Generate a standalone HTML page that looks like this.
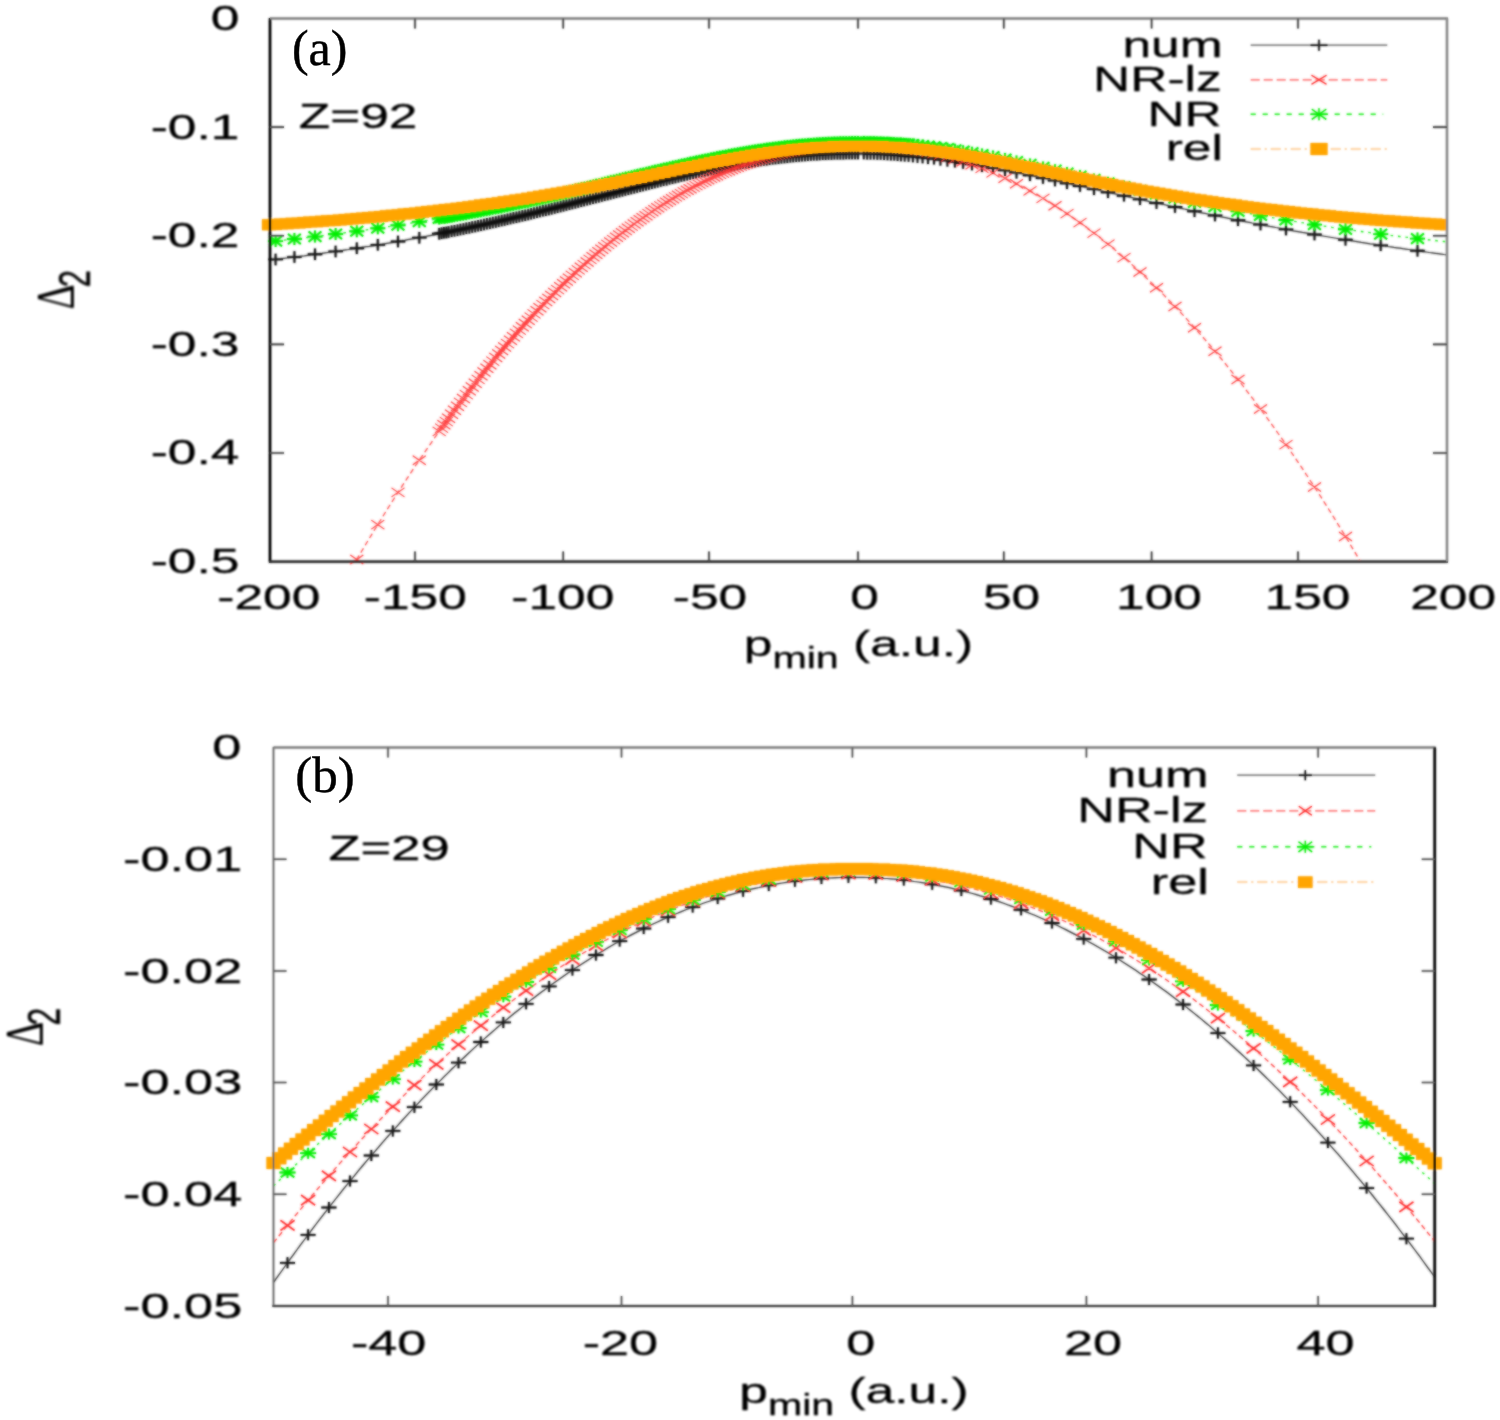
<!DOCTYPE html>
<html lang="en"><head><meta charset="utf-8"><title>Figure: Delta_2 versus p_min</title>
<style>
html,body{margin:0;padding:0;background:#fff}
svg{display:block}
text{fill:#000;stroke:#000;stroke-width:0.3px;stroke-linejoin:round}
.sf{stroke-width:0.15px}
.tg{stroke-width:0.45px}
</style></head>
<body>
<svg width="1500" height="1420" viewBox="0 0 1500 1420">
<defs><filter id="bl" x="0" y="0" width="1500" height="1420" filterUnits="userSpaceOnUse"><feGaussianBlur stdDeviation="0.9"/></filter><filter id="bl2" x="0" y="0" width="1500" height="1420" filterUnits="userSpaceOnUse"><feGaussianBlur stdDeviation="0.35"/></filter></defs>
<rect width="1500" height="1420" fill="#ffffff"/>
<defs>
<g id="gfx">
<clipPath id="clipA"><rect x="261.0" y="18.5" width="1187.0" height="550.1"/></clipPath>
<g clip-path="url(#clipA)">
<path d="M269.0,260.2L272.0,259.8L274.9,259.5L277.9,259.1L280.8,258.8L283.8,258.4L286.7,258.0L289.7,257.7L292.6,257.3L295.6,256.9L298.5,256.5L301.5,256.1L304.4,255.8L307.4,255.4L310.3,255.0L313.3,254.6L316.2,254.2L319.2,253.8L322.1,253.4L325.1,252.9L328.0,252.5L331.0,252.1L334.0,251.7L336.9,251.2L339.9,250.8L342.8,250.4L345.8,249.9L348.7,249.5L351.7,249.0L354.6,248.6L357.6,248.1L360.5,247.7L363.5,247.2L366.4,246.7L369.4,246.3L372.3,245.8L375.3,245.3L378.2,244.8L381.2,244.3L384.1,243.8L387.1,243.3L390.0,242.8L393.0,242.3L396.0,241.8L398.9,241.3L401.9,240.8L404.8,240.3L407.8,239.7L410.7,239.2L413.7,238.7L416.6,238.1L419.6,237.6L422.5,237.0L425.5,236.5L428.4,235.9L431.4,235.3L434.3,234.8L437.3,234.2L440.2,233.6L443.2,233.0L446.1,232.4L449.1,231.8L452.0,231.3L455.0,230.7L458.0,230.0L460.9,229.4L463.9,228.8L466.8,228.2L469.8,227.6L472.7,227.0L475.7,226.3L478.6,225.7L481.6,225.1L484.5,224.4L487.5,223.8L490.4,223.1L493.4,222.4L496.3,221.8L499.3,221.1L502.2,220.5L505.2,219.8L508.1,219.1L511.1,218.4L514.0,217.7L517.0,217.0L520.0,216.4L522.9,215.7L525.9,215.0L528.8,214.3L531.8,213.5L534.7,212.8L537.7,212.1L540.6,211.4L543.6,210.7L546.5,210.0L549.5,209.2L552.4,208.5L555.4,207.8L558.3,207.0L561.3,206.3L564.2,205.6L567.2,204.8L570.1,204.1L573.1,203.3L576.0,202.6L579.0,201.8L582.0,201.1L584.9,200.3L587.9,199.6L590.8,198.8L593.8,198.1L596.7,197.3L599.7,196.5L602.6,195.8L605.6,195.0L608.5,194.3L611.5,193.5L614.4,192.7L617.4,192.0L620.3,191.2L623.3,190.5L626.2,189.7L629.2,189.0L632.1,188.2L635.1,187.5L638.0,186.7L641.0,186.0L644.0,185.2L646.9,184.5L649.9,183.7L652.8,183.0L655.8,182.3L658.7,181.5L661.7,180.8L664.6,180.1L667.6,179.4L670.5,178.7L673.5,177.9L676.4,177.2L679.4,176.5L682.3,175.9L685.3,175.2L688.2,174.5L691.2,173.8L694.1,173.2L697.1,172.5L700.0,171.8L703.0,171.2L706.0,170.6L708.9,169.9L711.9,169.3L714.8,168.7L717.8,168.1L720.7,167.5L723.7,166.9L726.6,166.4L729.6,165.8L732.5,165.2L735.5,164.7L738.4,164.2L741.4,163.7L744.3,163.1L747.3,162.6L750.2,162.2L753.2,161.7L756.1,161.2L759.1,160.8L762.0,160.3L765.0,159.9L768.0,159.5L770.9,159.1L773.9,158.7L776.8,158.3L779.8,158.0L782.7,157.6L785.7,157.3L788.6,157.0L791.6,156.7L794.5,156.4L797.5,156.1L800.4,155.9L803.4,155.6L806.3,155.4L809.3,155.2L812.2,155.0L815.2,154.8L818.1,154.6L821.1,154.4L824.0,154.3L827.0,154.1L830.0,154.0L832.9,153.9L835.9,153.8L838.8,153.7L841.8,153.7L844.7,153.6L847.7,153.6L850.6,153.5L853.6,153.5L856.5,153.5L859.5,153.5L862.4,153.5L865.4,153.6L868.3,153.6L871.3,153.7L874.2,153.8L877.2,153.9L880.1,154.1L883.1,154.2L886.0,154.4L889.0,154.5L892.0,154.7L894.9,154.9L897.9,155.2L900.8,155.4L903.8,155.6L906.7,155.9L909.7,156.2L912.6,156.4L915.6,156.7L918.5,157.0L921.5,157.4L924.4,157.7L927.4,158.0L930.3,158.4L933.3,158.7L936.2,159.1L939.2,159.5L942.1,159.9L945.1,160.3L948.0,160.7L951.0,161.1L954.0,161.6L956.9,162.0L959.9,162.5L962.8,162.9L965.8,163.4L968.7,163.9L971.7,164.4L974.6,164.9L977.6,165.4L980.5,165.9L983.5,166.4L986.4,166.9L989.4,167.4L992.3,168.0L995.3,168.5L998.2,169.1L1001.2,169.6L1004.1,170.2L1007.1,170.8L1010.0,171.3L1013.0,171.9L1016.0,172.5L1018.9,173.1L1021.9,173.7L1024.8,174.3L1027.8,174.9L1030.7,175.5L1033.7,176.1L1036.6,176.7L1039.6,177.3L1042.5,177.9L1045.5,178.6L1048.4,179.2L1051.4,179.8L1054.3,180.4L1057.3,181.1L1060.2,181.7L1063.2,182.4L1066.1,183.0L1069.1,183.6L1072.0,184.3L1075.0,184.9L1078.0,185.6L1080.9,186.2L1083.9,186.9L1086.8,187.5L1089.8,188.2L1092.7,188.8L1095.7,189.5L1098.6,190.2L1101.6,190.8L1104.5,191.5L1107.5,192.1L1110.4,192.8L1113.4,193.4L1116.3,194.1L1119.3,194.8L1122.2,195.4L1125.2,196.1L1128.1,196.7L1131.1,197.4L1134.0,198.0L1137.0,198.7L1140.0,199.4L1142.9,200.0L1145.9,200.7L1148.8,201.3L1151.8,202.0L1154.7,202.6L1157.7,203.3L1160.6,203.9L1163.6,204.5L1166.5,205.2L1169.5,205.8L1172.4,206.5L1175.4,207.1L1178.3,207.7L1181.3,208.4L1184.2,209.0L1187.2,209.6L1190.1,210.3L1193.1,210.9L1196.0,211.5L1199.0,212.2L1202.0,212.8L1204.9,213.4L1207.9,214.0L1210.8,214.6L1213.8,215.2L1216.7,215.8L1219.7,216.5L1222.6,217.1L1225.6,217.7L1228.5,218.3L1231.5,218.9L1234.4,219.5L1237.4,220.0L1240.3,220.6L1243.3,221.2L1246.2,221.8L1249.2,222.4L1252.1,223.0L1255.1,223.5L1258.0,224.1L1261.0,224.7L1264.0,225.3L1266.9,225.8L1269.9,226.4L1272.8,226.9L1275.8,227.5L1278.7,228.0L1281.7,228.6L1284.6,229.1L1287.6,229.7L1290.5,230.2L1293.5,230.8L1296.4,231.3L1299.4,231.8L1302.3,232.4L1305.3,232.9L1308.2,233.4L1311.2,233.9L1314.1,234.5L1317.1,235.0L1320.0,235.5L1323.0,236.0L1326.0,236.5L1328.9,237.0L1331.9,237.5L1334.8,238.0L1337.8,238.5L1340.7,239.0L1343.7,239.5L1346.6,240.0L1349.6,240.5L1352.5,240.9L1355.5,241.4L1358.4,241.9L1361.4,242.4L1364.3,242.8L1367.3,243.3L1370.2,243.8L1373.2,244.2L1376.1,244.7L1379.1,245.1L1382.0,245.6L1385.0,246.0L1388.0,246.5L1390.9,246.9L1393.9,247.4L1396.8,247.8L1399.8,248.2L1402.7,248.7L1405.7,249.1L1408.6,249.5L1411.6,250.0L1414.5,250.4L1417.5,250.8L1420.4,251.2L1423.4,251.6L1426.3,252.0L1429.3,252.5L1432.2,252.9L1435.2,253.3L1438.1,253.7L1441.1,254.1L1444.0,254.5L1447.0,254.8" fill="none" stroke="#444" stroke-width="1.2"/>
<path d="M268.4,259.4h14.5M275.6,253.7v11.5M287.1,257.1h14.5M294.4,251.3v11.5M307.8,254.3h14.5M315.0,248.6v11.5M328.4,251.4h14.5M335.6,245.7v11.5M349.6,248.2h14.5M356.8,242.5v11.5M370.6,244.9h14.5M377.8,239.1v11.5M390.8,241.5h14.5M398.0,235.7v11.5M412.1,237.6h14.5M419.3,231.9v11.5M432.0,233.8h14.5M439.2,228.1v11.5M434.3,233.3h14.5M441.6,227.6v11.5M436.7,232.9h14.5M443.9,227.1v11.5M439.0,232.4h14.5M446.3,226.7v11.5M441.4,231.9h14.5M448.6,226.2v11.5M444.3,231.3h14.5M451.6,225.6v11.5M447.3,230.7h14.5M454.5,225.0v11.5M450.2,230.1h14.5M457.5,224.4v11.5M453.2,229.5h14.5M460.4,223.8v11.5M456.1,228.9h14.5M463.4,223.2v11.5M459.1,228.3h14.5M466.3,222.6v11.5M462.0,227.7h14.5M469.3,221.9v11.5M465.0,227.1h14.5M472.2,221.3v11.5M467.9,226.4h14.5M475.2,220.7v11.5M470.8,225.8h14.5M478.1,220.1v11.5M473.8,225.2h14.5M481.0,219.4v11.5M476.7,224.5h14.5M484.0,218.8v11.5M479.7,223.9h14.5M486.9,218.1v11.5M482.6,223.2h14.5M489.9,217.5v11.5M485.6,222.6h14.5M492.8,216.8v11.5M488.5,221.9h14.5M495.8,216.2v11.5M491.5,221.3h14.5M498.7,215.5v11.5M494.4,220.6h14.5M501.7,214.8v11.5M497.4,219.9h14.5M504.6,214.2v11.5M500.3,219.2h14.5M507.5,213.5v11.5M503.2,218.6h14.5M510.5,212.8v11.5M506.2,217.9h14.5M513.4,212.1v11.5M509.1,217.2h14.5M516.4,211.4v11.5M512.1,216.5h14.5M519.3,210.8v11.5M515.0,215.8h14.5M522.3,210.1v11.5M518.0,215.1h14.5M525.2,209.4v11.5M520.9,214.4h14.5M528.2,208.7v11.5M523.9,213.7h14.5M531.1,208.0v11.5M526.8,213.0h14.5M534.0,207.2v11.5M529.7,212.3h14.5M537.0,206.5v11.5M532.7,211.6h14.5M539.9,205.8v11.5M535.6,210.8h14.5M542.9,205.1v11.5M538.6,210.1h14.5M545.8,204.4v11.5M541.5,209.4h14.5M548.8,203.7v11.5M544.5,208.7h14.5M551.7,202.9v11.5M547.4,207.9h14.5M554.7,202.2v11.5M550.4,207.2h14.5M557.6,201.5v11.5M553.3,206.5h14.5M560.6,200.7v11.5M556.2,205.7h14.5M563.5,200.0v11.5M559.2,205.0h14.5M566.4,199.3v11.5M562.1,204.3h14.5M569.4,198.5v11.5M565.1,203.5h14.5M572.3,197.8v11.5M568.0,202.8h14.5M575.3,197.0v11.5M571.0,202.0h14.5M578.2,196.3v11.5M573.9,201.3h14.5M581.2,195.5v11.5M576.9,200.5h14.5M584.1,194.8v11.5M579.8,199.8h14.5M587.1,194.0v11.5M582.8,199.0h14.5M590.0,193.3v11.5M585.7,198.3h14.5M593.0,192.5v11.5M588.6,197.5h14.5M595.9,191.8v11.5M591.6,196.8h14.5M598.8,191.0v11.5M594.5,196.0h14.5M601.8,190.2v11.5M597.5,195.2h14.5M604.7,189.5v11.5M600.4,194.5h14.5M607.7,188.7v11.5M603.4,193.7h14.5M610.6,188.0v11.5M606.3,193.0h14.5M613.6,187.2v11.5M609.3,192.2h14.5M616.5,186.5v11.5M612.2,191.5h14.5M619.5,185.7v11.5M615.1,190.7h14.5M622.4,184.9v11.5M618.1,189.9h14.5M625.3,184.2v11.5M621.0,189.2h14.5M628.3,183.4v11.5M624.0,188.4h14.5M631.2,182.7v11.5M626.9,187.7h14.5M634.2,181.9v11.5M629.9,186.9h14.5M637.1,181.2v11.5M632.8,186.2h14.5M640.1,180.4v11.5M635.8,185.4h14.5M643.0,179.7v11.5M638.7,184.7h14.5M646.0,179.0v11.5M641.7,184.0h14.5M648.9,178.2v11.5M644.6,183.2h14.5M651.9,177.5v11.5M647.5,182.5h14.5M654.8,176.7v11.5M650.5,181.8h14.5M657.7,176.0v11.5M653.4,181.0h14.5M660.7,175.3v11.5M656.4,180.3h14.5M663.6,174.6v11.5M659.3,179.6h14.5M666.6,173.9v11.5M662.3,178.9h14.5M669.5,173.1v11.5M665.2,178.2h14.5M672.5,172.4v11.5M668.2,177.5h14.5M675.4,171.7v11.5M671.1,176.8h14.5M678.4,171.0v11.5M674.0,176.1h14.5M681.3,170.3v11.5M677.0,175.4h14.5M684.2,169.7v11.5M679.9,174.7h14.5M687.2,169.0v11.5M682.9,174.1h14.5M690.1,168.3v11.5M685.8,173.4h14.5M693.1,167.6v11.5M688.8,172.7h14.5M696.0,167.0v11.5M691.7,172.1h14.5M699.0,166.3v11.5M694.7,171.4h14.5M701.9,165.7v11.5M697.6,170.8h14.5M704.9,165.1v11.5M700.6,170.2h14.5M707.8,164.4v11.5M703.5,169.6h14.5M710.8,163.8v11.5M706.4,168.9h14.5M713.7,163.2v11.5M709.4,168.3h14.5M716.6,162.6v11.5M712.3,167.7h14.5M719.6,162.0v11.5M715.3,167.2h14.5M722.5,161.4v11.5M718.2,166.6h14.5M725.5,160.8v11.5M721.2,166.0h14.5M728.4,160.3v11.5M724.1,165.5h14.5M731.4,159.7v11.5M727.1,164.9h14.5M734.3,159.2v11.5M730.0,164.4h14.5M737.3,158.6v11.5M733.0,163.9h14.5M740.2,158.1v11.5M735.9,163.3h14.5M743.1,157.6v11.5M738.8,162.8h14.5M746.1,157.1v11.5M741.8,162.4h14.5M749.0,156.6v11.5M744.7,161.9h14.5M752.0,156.1v11.5M747.7,161.4h14.5M754.9,155.7v11.5M750.6,161.0h14.5M757.9,155.2v11.5M753.6,160.5h14.5M760.8,154.8v11.5M756.5,160.1h14.5M763.8,154.3v11.5M759.5,159.7h14.5M766.7,153.9v11.5M762.4,159.3h14.5M769.6,153.5v11.5M765.3,158.9h14.5M772.6,153.1v11.5M768.3,158.5h14.5M775.5,152.8v11.5M771.2,158.1h14.5M778.5,152.4v11.5M774.2,157.8h14.5M781.4,152.0v11.5M777.1,157.5h14.5M784.4,151.7v11.5M780.1,157.1h14.5M787.3,151.4v11.5M783.0,156.8h14.5M790.3,151.1v11.5M786.0,156.5h14.5M793.2,150.8v11.5M788.9,156.2h14.5M796.2,150.5v11.5M791.9,156.0h14.5M799.1,150.2v11.5M794.8,155.7h14.5M802.0,150.0v11.5M797.7,155.5h14.5M805.0,149.7v11.5M800.7,155.3h14.5M807.9,149.5v11.5M803.6,155.0h14.5M810.9,149.3v11.5M806.6,154.8h14.5M813.8,149.1v11.5M809.5,154.7h14.5M816.8,148.9v11.5M812.5,154.5h14.5M819.7,148.7v11.5M815.4,154.3h14.5M822.7,148.6v11.5M818.4,154.2h14.5M825.6,148.4v11.5M821.3,154.1h14.5M828.5,148.3v11.5M824.2,154.0h14.5M831.5,148.2v11.5M827.2,153.9h14.5M834.4,148.1v11.5M830.1,153.8h14.5M837.4,148.0v11.5M833.1,153.7h14.5M840.3,147.9v11.5M836.0,153.6h14.5M843.3,147.9v11.5M839.0,153.6h14.5M846.2,147.8v11.5M841.9,153.5h14.5M849.2,147.8v11.5M844.9,153.5h14.5M852.1,147.8v11.5M847.8,153.5h14.5M855.1,147.8v11.5M850.8,153.5h14.5M858.0,147.8v11.5M856.5,153.5h14.5M863.8,147.8v11.5M859.9,153.6h14.5M867.2,147.9v11.5M863.3,153.7h14.5M870.5,147.9v11.5M866.7,153.8h14.5M873.9,148.1v11.5M870.1,153.9h14.5M877.3,148.2v11.5M873.5,154.1h14.5M880.7,148.3v11.5M876.8,154.3h14.5M884.1,148.5v11.5M880.2,154.4h14.5M887.5,148.7v11.5M883.6,154.7h14.5M890.9,148.9v11.5M887.0,154.9h14.5M894.2,149.1v11.5M890.4,155.1h14.5M897.6,149.4v11.5M893.8,155.4h14.5M901.0,149.7v11.5M897.4,155.7h14.5M904.7,150.0v11.5M901.4,156.1h14.5M908.6,150.3v11.5M905.6,156.5h14.5M912.9,150.7v11.5M910.3,156.9h14.5M917.5,151.2v11.5M915.3,157.5h14.5M922.6,151.7v11.5M920.8,158.1h14.5M928.0,152.4v11.5M926.7,158.8h14.5M934.0,153.1v11.5M933.1,159.7h14.5M940.4,153.9v11.5M940.1,160.6h14.5M947.4,154.9v11.5M947.7,161.7h14.5M954.9,156.0v11.5M955.9,163.0h14.5M963.1,157.2v11.5M964.8,164.4h14.5M972.0,158.7v11.5M974.8,166.1h14.5M982.0,160.4v11.5M985.8,168.1h14.5M993.0,162.4v11.5M997.8,170.4h14.5M1005.0,164.6v11.5M1009.2,172.6h14.5M1016.5,166.9v11.5M1022.8,175.3h14.5M1030.0,169.6v11.5M1035.8,178.0h14.5M1043.0,172.3v11.5M1047.8,180.6h14.5M1055.0,174.8v11.5M1059.8,183.2h14.5M1067.0,177.4v11.5M1072.8,186.0h14.5M1080.0,180.3v11.5M1086.8,189.1h14.5M1094.0,183.4v11.5M1100.8,192.2h14.5M1108.0,186.5v11.5M1116.8,195.8h14.5M1124.0,190.1v11.5M1132.8,199.4h14.5M1140.0,193.6v11.5M1149.2,203.0h14.5M1156.5,197.2v11.5M1167.8,207.0h14.5M1175.0,201.3v11.5M1187.2,211.2h14.5M1194.5,205.5v11.5M1207.8,215.5h14.5M1215.0,209.7v11.5M1230.8,220.2h14.5M1238.0,214.4v11.5M1253.2,224.6h14.5M1260.5,218.8v11.5M1278.8,229.4h14.5M1286.0,223.7v11.5M1307.2,234.5h14.5M1314.5,228.8v11.5M1338.2,239.8h14.5M1345.5,234.0v11.5M1373.5,245.4h14.5M1380.7,239.6v11.5M1410.2,250.8h14.5M1417.5,245.1v11.5" fill="none" stroke="#111" stroke-width="1.9"/>
<path d="M356.5,559.9L359.1,555.6L361.6,551.3L364.2,547.1L366.7,542.8L369.2,538.6L371.8,534.4L374.3,530.2L376.9,526.1L379.4,522.0L381.9,517.9L384.5,513.8L387.0,509.7L389.5,505.7L392.1,501.7L394.6,497.7L397.2,493.7L399.7,489.8L402.2,485.9L404.8,482.0L407.3,478.1L409.9,474.3L412.4,470.4L414.9,466.6L417.5,462.9L420.0,459.1L422.6,455.4L425.1,451.7L427.6,448.0L430.2,444.3L432.7,440.7L435.2,437.0L437.8,433.5L440.3,429.9L442.9,426.3L445.4,422.8L447.9,419.3L450.5,415.8L453.0,412.4L455.6,408.9L458.1,405.5L460.6,402.1L463.2,398.7L465.7,395.4L468.3,392.1L470.8,388.8L473.3,385.5L475.9,382.2L478.4,379.0L481.0,375.8L483.5,372.6L486.0,369.5L488.6,366.3L491.1,363.2L493.6,360.1L496.2,357.0L498.7,354.0L501.3,351.0L503.8,348.0L506.3,345.0L508.9,342.0L511.4,339.1L514.0,336.2L516.5,333.3L519.0,330.4L521.6,327.6L524.1,324.7L526.7,321.9L529.2,319.2L531.7,316.4L534.3,313.7L536.8,311.0L539.3,308.3L541.9,305.6L544.4,303.0L547.0,300.4L549.5,297.8L552.0,295.2L554.6,292.6L557.1,290.1L559.7,287.6L562.2,285.1L564.7,282.6L567.3,280.2L569.8,277.8L572.4,275.4L574.9,273.0L577.4,270.7L580.0,268.3L582.5,266.0L585.1,263.8L587.6,261.5L590.1,259.3L592.7,257.0L595.2,254.8L597.7,252.7L600.3,250.5L602.8,248.4L605.4,246.3L607.9,244.2L610.4,242.1L613.0,240.1L615.5,238.1L618.1,236.1L620.6,234.1L623.1,232.2L625.7,230.3L628.2,228.3L630.8,226.5L633.3,224.6L635.8,222.8L638.4,220.9L640.9,219.2L643.5,217.4L646.0,215.6L648.5,213.9L651.1,212.2L653.6,210.5L656.1,208.8L658.7,207.2L661.2,205.6L663.8,204.0L666.3,202.4L668.8,200.9L671.4,199.3L673.9,197.8L676.5,196.3L679.0,194.9L681.5,193.4L684.1,192.0L686.6,190.6L689.2,189.2L691.7,187.9L694.2,186.5L696.8,185.2L699.3,183.9L701.8,182.7L704.4,181.4L706.9,180.2L709.5,179.0L712.0,177.8L714.5,176.6L717.1,175.5L719.6,174.4L722.2,173.3L724.7,172.2L727.2,171.2L729.8,170.1L732.3,169.1L734.9,168.1L737.4,167.1L739.9,166.2L742.5,165.3L745.0,164.4L747.6,163.5L750.1,162.6L752.6,161.8L755.2,161.0L757.7,160.2L760.2,159.4L762.8,158.6L765.3,157.9L767.9,157.2L770.4,156.5L772.9,155.8L775.5,155.2L778.0,154.5L780.6,153.9L783.1,153.3L785.6,152.8L788.2,152.2L790.7,151.7L793.3,151.2L795.8,150.7L798.3,150.2L800.9,149.8L803.4,149.4L805.9,148.9L808.5,148.6L811.0,148.2L813.6,147.9L816.1,147.5L818.6,147.2L821.2,146.9L823.7,146.7L826.3,146.4L828.8,146.2L831.3,146.0L833.9,145.8L836.4,145.7L839.0,145.5L841.5,145.4L844.0,145.3L846.6,145.2L849.1,145.1L851.7,145.1L854.2,145.0L856.7,145.0L859.3,145.0L861.8,145.0L864.3,145.1L866.9,145.1L869.4,145.2L872.0,145.3L874.5,145.4L877.0,145.5L879.6,145.7L882.1,145.8L884.7,146.0L887.2,146.2L889.7,146.4L892.3,146.7L894.8,146.9L897.4,147.2L899.9,147.5L902.4,147.9L905.0,148.2L907.5,148.6L910.1,148.9L912.6,149.4L915.1,149.8L917.7,150.2L920.2,150.7L922.7,151.2L925.3,151.7L927.8,152.2L930.4,152.8L932.9,153.3L935.4,153.9L938.0,154.5L940.5,155.2L943.1,155.8L945.6,156.5L948.1,157.2L950.7,157.9L953.2,158.6L955.8,159.4L958.3,160.2L960.8,161.0L963.4,161.8L965.9,162.6L968.4,163.5L971.0,164.4L973.5,165.3L976.1,166.2L978.6,167.1L981.1,168.1L983.7,169.1L986.2,170.1L988.8,171.2L991.3,172.2L993.8,173.3L996.4,174.4L998.9,175.5L1001.5,176.6L1004.0,177.8L1006.5,179.0L1009.1,180.2L1011.6,181.4L1014.2,182.7L1016.7,183.9L1019.2,185.2L1021.8,186.5L1024.3,187.9L1026.8,189.2L1029.4,190.6L1031.9,192.0L1034.5,193.4L1037.0,194.9L1039.5,196.3L1042.1,197.8L1044.6,199.3L1047.2,200.9L1049.7,202.4L1052.2,204.0L1054.8,205.6L1057.3,207.2L1059.9,208.8L1062.4,210.5L1064.9,212.2L1067.5,213.9L1070.0,215.6L1072.5,217.4L1075.1,219.2L1077.6,220.9L1080.2,222.8L1082.7,224.6L1085.2,226.5L1087.8,228.3L1090.3,230.3L1092.9,232.2L1095.4,234.1L1097.9,236.1L1100.5,238.1L1103.0,240.1L1105.6,242.1L1108.1,244.2L1110.6,246.3L1113.2,248.4L1115.7,250.5L1118.3,252.7L1120.8,254.8L1123.3,257.0L1125.9,259.3L1128.4,261.5L1130.9,263.8L1133.5,266.0L1136.0,268.3L1138.6,270.7L1141.1,273.0L1143.6,275.4L1146.2,277.8L1148.7,280.2L1151.3,282.6L1153.8,285.1L1156.3,287.6L1158.9,290.1L1161.4,292.6L1164.0,295.2L1166.5,297.8L1169.0,300.4L1171.6,303.0L1174.1,305.6L1176.7,308.3L1179.2,311.0L1181.7,313.7L1184.3,316.4L1186.8,319.2L1189.3,321.9L1191.9,324.7L1194.4,327.6L1197.0,330.4L1199.5,333.3L1202.0,336.2L1204.6,339.1L1207.1,342.0L1209.7,345.0L1212.2,348.0L1214.7,351.0L1217.3,354.0L1219.8,357.0L1222.4,360.1L1224.9,363.2L1227.4,366.3L1230.0,369.5L1232.5,372.6L1235.0,375.8L1237.6,379.0L1240.1,382.2L1242.7,385.5L1245.2,388.8L1247.7,392.1L1250.3,395.4L1252.8,398.7L1255.4,402.1L1257.9,405.5L1260.4,408.9L1263.0,412.4L1265.5,415.8L1268.1,419.3L1270.6,422.8L1273.1,426.3L1275.7,429.9L1278.2,433.5L1280.8,437.0L1283.3,440.7L1285.8,444.3L1288.4,448.0L1290.9,451.7L1293.4,455.4L1296.0,459.1L1298.5,462.9L1301.1,466.6L1303.6,470.4L1306.1,474.3L1308.7,478.1L1311.2,482.0L1313.8,485.9L1316.3,489.8L1318.8,493.7L1321.4,497.7L1323.9,501.7L1326.5,505.7L1329.0,509.7L1331.5,513.8L1334.1,517.9L1336.6,522.0L1339.1,526.1L1341.7,530.2L1344.2,534.4L1346.8,538.6L1349.3,542.8L1351.8,547.1L1354.4,551.3L1356.9,555.6L1359.5,559.9" fill="none" stroke="#ff6060" stroke-width="1.2" stroke-dasharray="5,3.5"/>
<path d="M350.3,555.0l13,9M350.3,564.0l13,-9M371.3,520.1l13,9M371.3,529.1l13,-9M391.5,487.9l13,9M391.5,496.9l13,-9M412.8,455.7l13,9M412.8,464.7l13,-9M432.7,426.9l13,9M432.7,435.9l13,-9M435.1,423.6l13,9M435.1,432.6l13,-9M437.4,420.3l13,9M437.4,429.3l13,-9M439.8,417.1l13,9M439.8,426.1l13,-9M442.1,413.8l13,9M442.1,422.8l13,-9M445.1,409.8l13,9M445.1,418.8l13,-9M448.0,405.8l13,9M448.0,414.8l13,-9M451.0,401.8l13,9M451.0,410.8l13,-9M453.9,397.9l13,9M453.9,406.9l13,-9M456.9,394.0l13,9M456.9,403.0l13,-9M459.8,390.1l13,9M459.8,399.1l13,-9M462.8,386.3l13,9M462.8,395.3l13,-9M465.7,382.5l13,9M465.7,391.5l13,-9M468.7,378.7l13,9M468.7,387.7l13,-9M471.6,374.9l13,9M471.6,383.9l13,-9M474.5,371.2l13,9M474.5,380.2l13,-9M477.5,367.5l13,9M477.5,376.5l13,-9M480.4,363.8l13,9M480.4,372.8l13,-9M483.4,360.2l13,9M483.4,369.2l13,-9M486.3,356.6l13,9M486.3,365.6l13,-9M489.3,353.0l13,9M489.3,362.0l13,-9M492.2,349.5l13,9M492.2,358.5l13,-9M495.2,346.0l13,9M495.2,355.0l13,-9M498.1,342.5l13,9M498.1,351.5l13,-9M501.0,339.1l13,9M501.0,348.1l13,-9M504.0,335.7l13,9M504.0,344.7l13,-9M506.9,332.3l13,9M506.9,341.3l13,-9M509.9,328.9l13,9M509.9,337.9l13,-9M512.8,325.6l13,9M512.8,334.6l13,-9M515.8,322.3l13,9M515.8,331.3l13,-9M518.7,319.0l13,9M518.7,328.0l13,-9M521.7,315.8l13,9M521.7,324.8l13,-9M524.6,312.6l13,9M524.6,321.6l13,-9M527.5,309.4l13,9M527.5,318.4l13,-9M530.5,306.3l13,9M530.5,315.3l13,-9M533.4,303.2l13,9M533.4,312.2l13,-9M536.4,300.1l13,9M536.4,309.1l13,-9M539.3,297.0l13,9M539.3,306.0l13,-9M542.3,294.0l13,9M542.3,303.0l13,-9M545.2,291.0l13,9M545.2,300.0l13,-9M548.2,288.0l13,9M548.2,297.0l13,-9M551.1,285.1l13,9M551.1,294.1l13,-9M554.1,282.2l13,9M554.1,291.2l13,-9M557.0,279.3l13,9M557.0,288.3l13,-9M559.9,276.5l13,9M559.9,285.5l13,-9M562.9,273.7l13,9M562.9,282.7l13,-9M565.8,270.9l13,9M565.8,279.9l13,-9M568.8,268.2l13,9M568.8,277.2l13,-9M571.7,265.4l13,9M571.7,274.4l13,-9M574.7,262.8l13,9M574.7,271.8l13,-9M577.6,260.1l13,9M577.6,269.1l13,-9M580.6,257.5l13,9M580.6,266.5l13,-9M583.5,254.9l13,9M583.5,263.9l13,-9M586.5,252.3l13,9M586.5,261.3l13,-9M589.4,249.8l13,9M589.4,258.8l13,-9M592.3,247.2l13,9M592.3,256.2l13,-9M595.3,244.8l13,9M595.3,253.8l13,-9M598.2,242.3l13,9M598.2,251.3l13,-9M601.2,239.9l13,9M601.2,248.9l13,-9M604.1,237.5l13,9M604.1,246.5l13,-9M607.1,235.1l13,9M607.1,244.1l13,-9M610.0,232.8l13,9M610.0,241.8l13,-9M613.0,230.5l13,9M613.0,239.5l13,-9M615.9,228.2l13,9M615.9,237.2l13,-9M618.8,226.0l13,9M618.8,235.0l13,-9M621.8,223.8l13,9M621.8,232.8l13,-9M624.7,221.6l13,9M624.7,230.6l13,-9M627.7,219.5l13,9M627.7,228.5l13,-9M630.6,217.3l13,9M630.6,226.3l13,-9M633.6,215.2l13,9M633.6,224.2l13,-9M636.5,213.2l13,9M636.5,222.2l13,-9M639.5,211.2l13,9M639.5,220.2l13,-9M642.4,209.1l13,9M642.4,218.1l13,-9M645.4,207.2l13,9M645.4,216.2l13,-9M648.3,205.2l13,9M648.3,214.2l13,-9M651.2,203.3l13,9M651.2,212.3l13,-9M654.2,201.4l13,9M654.2,210.4l13,-9M657.1,199.6l13,9M657.1,208.6l13,-9M660.1,197.8l13,9M660.1,206.8l13,-9M663.0,196.0l13,9M663.0,205.0l13,-9M666.0,194.2l13,9M666.0,203.2l13,-9M668.9,192.4l13,9M668.9,201.4l13,-9M671.9,190.7l13,9M671.9,199.7l13,-9M674.8,189.1l13,9M674.8,198.1l13,-9M677.7,187.4l13,9M677.7,196.4l13,-9M680.7,185.8l13,9M680.7,194.8l13,-9M683.6,184.2l13,9M683.6,193.2l13,-9M686.6,182.6l13,9M686.6,191.6l13,-9M689.5,181.1l13,9M689.5,190.1l13,-9M692.5,179.6l13,9M692.5,188.6l13,-9M695.4,178.1l13,9M695.4,187.1l13,-9M698.4,176.7l13,9M698.4,185.7l13,-9M701.3,175.3l13,9M701.3,184.3l13,-9M704.2,173.9l13,9M704.2,182.9l13,-9M707.2,172.5l13,9M707.2,181.5l13,-9M710.1,171.2l13,9M710.1,180.2l13,-9M713.1,169.9l13,9M713.1,178.9l13,-9M716.0,168.6l13,9M716.0,177.6l13,-9M719.0,167.4l13,9M719.0,176.4l13,-9M721.9,166.2l13,9M721.9,175.2l13,-9M724.9,165.0l13,9M724.9,174.0l13,-9M727.8,163.8l13,9M727.8,172.8l13,-9M730.8,162.7l13,9M730.8,171.7l13,-9M733.7,161.6l13,9M733.7,170.6l13,-9M736.6,160.5l13,9M736.6,169.5l13,-9M739.6,159.5l13,9M739.6,168.5l13,-9M742.5,158.5l13,9M742.5,167.5l13,-9M745.5,157.5l13,9M745.5,166.5l13,-9M748.4,156.5l13,9M748.4,165.5l13,-9M751.4,155.6l13,9M751.4,164.6l13,-9M754.3,154.7l13,9M754.3,163.7l13,-9M757.3,153.8l13,9M757.3,162.8l13,-9M760.2,153.0l13,9M760.2,162.0l13,-9M763.1,152.2l13,9M763.1,161.2l13,-9M766.1,151.4l13,9M766.1,160.4l13,-9M769.0,150.6l13,9M769.0,159.6l13,-9M772.0,149.9l13,9M772.0,158.9l13,-9M774.9,149.2l13,9M774.9,158.2l13,-9M777.9,148.5l13,9M777.9,157.5l13,-9M780.8,147.9l13,9M780.8,156.9l13,-9M783.8,147.3l13,9M783.8,156.3l13,-9M786.7,146.7l13,9M786.7,155.7l13,-9M789.7,146.1l13,9M789.7,155.1l13,-9M792.6,145.6l13,9M792.6,154.6l13,-9M795.5,145.1l13,9M795.5,154.1l13,-9M798.5,144.6l13,9M798.5,153.6l13,-9M801.4,144.1l13,9M801.4,153.1l13,-9M804.4,143.7l13,9M804.4,152.7l13,-9M807.3,143.3l13,9M807.3,152.3l13,-9M810.3,143.0l13,9M810.3,152.0l13,-9M813.2,142.6l13,9M813.2,151.6l13,-9M816.2,142.3l13,9M816.2,151.3l13,-9M819.1,142.0l13,9M819.1,151.0l13,-9M822.0,141.7l13,9M822.0,150.7l13,-9M825.0,141.5l13,9M825.0,150.5l13,-9M827.9,141.3l13,9M827.9,150.3l13,-9M830.9,141.1l13,9M830.9,150.1l13,-9M833.8,140.9l13,9M833.8,149.9l13,-9M836.8,140.8l13,9M836.8,149.8l13,-9M839.7,140.7l13,9M839.7,149.7l13,-9M842.7,140.6l13,9M842.7,149.6l13,-9M845.6,140.6l13,9M845.6,149.6l13,-9M848.6,140.5l13,9M848.6,149.5l13,-9M851.5,140.5l13,9M851.5,149.5l13,-9M857.3,140.6l13,9M857.3,149.6l13,-9M860.7,140.6l13,9M860.7,149.6l13,-9M864.0,140.7l13,9M864.0,149.7l13,-9M867.4,140.9l13,9M867.4,149.9l13,-9M870.8,141.0l13,9M870.8,150.0l13,-9M874.2,141.2l13,9M874.2,150.2l13,-9M877.6,141.5l13,9M877.6,150.5l13,-9M881.0,141.7l13,9M881.0,150.7l13,-9M884.4,142.0l13,9M884.4,151.0l13,-9M887.7,142.4l13,9M887.7,151.4l13,-9M891.1,142.8l13,9M891.1,151.8l13,-9M894.5,143.2l13,9M894.5,152.2l13,-9M898.2,143.7l13,9M898.2,152.7l13,-9M902.1,144.2l13,9M902.1,153.2l13,-9M906.4,144.9l13,9M906.4,153.9l13,-9M911.0,145.7l13,9M911.0,154.7l13,-9M916.1,146.6l13,9M916.1,155.6l13,-9M921.5,147.8l13,9M921.5,156.8l13,-9M927.5,149.1l13,9M927.5,158.1l13,-9M933.9,150.6l13,9M933.9,159.6l13,-9M940.9,152.5l13,9M940.9,161.5l13,-9M948.4,154.6l13,9M948.4,163.6l13,-9M956.6,157.2l13,9M956.6,166.2l13,-9M965.5,160.2l13,9M965.5,169.2l13,-9M975.5,163.9l13,9M975.5,172.9l13,-9M986.5,168.4l13,9M986.5,177.4l13,-9M998.5,173.8l13,9M998.5,182.8l13,-9M1010.0,179.3l13,9M1010.0,188.3l13,-9M1023.5,186.4l13,9M1023.5,195.4l13,-9M1036.5,193.9l13,9M1036.5,202.9l13,-9M1048.5,201.2l13,9M1048.5,210.2l13,-9M1060.5,209.1l13,9M1060.5,218.1l13,-9M1073.5,218.1l13,9M1073.5,227.1l13,-9M1087.5,228.6l13,9M1087.5,237.6l13,-9M1101.5,239.6l13,9M1101.5,248.6l13,-9M1117.5,253.1l13,9M1117.5,262.1l13,-9M1133.5,267.5l13,9M1133.5,276.5l13,-9M1150.0,283.3l13,9M1150.0,292.3l13,-9M1168.5,302.0l13,9M1168.5,311.0l13,-9M1188.0,323.2l13,9M1188.0,332.2l13,-9M1208.5,346.8l13,9M1208.5,355.8l13,-9M1231.5,375.0l13,9M1231.5,384.0l13,-9M1254.0,404.5l13,9M1254.0,413.5l13,-9M1279.5,440.1l13,9M1279.5,449.1l13,-9M1308.0,482.5l13,9M1308.0,491.5l13,-9M1339.0,532.0l13,9M1339.0,541.0l13,-9" fill="none" stroke="#ff2a2a" stroke-width="1.15" opacity="0.8"/>
<path d="M269.0,241.8L272.0,241.5L274.9,241.2L277.9,240.9L280.8,240.5L283.8,240.2L286.7,239.9L289.7,239.6L292.6,239.2L295.6,238.9L298.5,238.6L301.5,238.2L304.4,237.9L307.4,237.5L310.3,237.2L313.3,236.8L316.2,236.5L319.2,236.1L322.1,235.7L325.1,235.4L328.0,235.0L331.0,234.6L334.0,234.2L336.9,233.9L339.9,233.5L342.8,233.1L345.8,232.7L348.7,232.3L351.7,231.9L354.6,231.5L357.6,231.1L360.5,230.7L363.5,230.3L366.4,229.8L369.4,229.4L372.3,229.0L375.3,228.6L378.2,228.1L381.2,227.7L384.1,227.3L387.1,226.8L390.0,226.4L393.0,225.9L396.0,225.5L398.9,225.0L401.9,224.6L404.8,224.1L407.8,223.6L410.7,223.1L413.7,222.7L416.6,222.2L419.6,221.7L422.5,221.2L425.5,220.7L428.4,220.2L431.4,219.7L434.3,219.2L437.3,218.7L440.2,218.2L443.2,217.7L446.1,217.1L449.1,216.6L452.0,216.1L455.0,215.6L458.0,215.0L460.9,214.5L463.9,213.9L466.8,213.4L469.8,212.8L472.7,212.3L475.7,211.7L478.6,211.1L481.6,210.6L484.5,210.0L487.5,209.4L490.4,208.8L493.4,208.2L496.3,207.6L499.3,207.0L502.2,206.4L505.2,205.8L508.1,205.2L511.1,204.6L514.0,204.0L517.0,203.4L520.0,202.8L522.9,202.1L525.9,201.5L528.8,200.9L531.8,200.2L534.7,199.6L537.7,199.0L540.6,198.3L543.6,197.7L546.5,197.0L549.5,196.3L552.4,195.7L555.4,195.0L558.3,194.3L561.3,193.7L564.2,193.0L567.2,192.3L570.1,191.7L573.1,191.0L576.0,190.3L579.0,189.6L582.0,188.9L584.9,188.2L587.9,187.5L590.8,186.8L593.8,186.1L596.7,185.4L599.7,184.7L602.6,184.0L605.6,183.3L608.5,182.6L611.5,181.9L614.4,181.2L617.4,180.5L620.3,179.8L623.3,179.1L626.2,178.4L629.2,177.7L632.1,177.0L635.1,176.3L638.0,175.6L641.0,174.9L644.0,174.2L646.9,173.5L649.9,172.8L652.8,172.1L655.8,171.4L658.7,170.7L661.7,170.0L664.6,169.3L667.6,168.6L670.5,167.9L673.5,167.3L676.4,166.6L679.4,165.9L682.3,165.2L685.3,164.6L688.2,163.9L691.2,163.3L694.1,162.6L697.1,162.0L700.0,161.3L703.0,160.7L706.0,160.1L708.9,159.5L711.9,158.8L714.8,158.2L717.8,157.6L720.7,157.0L723.7,156.5L726.6,155.9L729.6,155.3L732.5,154.8L735.5,154.2L738.4,153.7L741.4,153.1L744.3,152.6L747.3,152.1L750.2,151.6L753.2,151.1L756.1,150.6L759.1,150.2L762.0,149.7L765.0,149.3L768.0,148.8L770.9,148.4L773.9,148.0L776.8,147.6L779.8,147.2L782.7,146.8L785.7,146.5L788.6,146.1L791.6,145.8L794.5,145.5L797.5,145.2L800.4,144.9L803.4,144.6L806.3,144.3L809.3,144.1L812.2,143.8L815.2,143.6L818.1,143.4L821.1,143.2L824.0,143.1L827.0,142.9L830.0,142.7L832.9,142.6L835.9,142.5L838.8,142.4L841.8,142.3L844.7,142.2L847.7,142.2L850.6,142.1L853.6,142.1L856.5,142.1L859.5,142.1L862.4,142.1L865.4,142.1L868.3,142.2L871.3,142.2L874.2,142.3L877.2,142.4L880.1,142.5L883.1,142.6L886.0,142.7L889.0,142.9L892.0,143.1L894.9,143.2L897.9,143.4L900.8,143.6L903.8,143.8L906.7,144.1L909.7,144.3L912.6,144.6L915.6,144.9L918.5,145.2L921.5,145.5L924.4,145.8L927.4,146.1L930.3,146.5L933.3,146.8L936.2,147.2L939.2,147.6L942.1,148.0L945.1,148.4L948.0,148.8L951.0,149.3L954.0,149.7L956.9,150.2L959.9,150.6L962.8,151.1L965.8,151.6L968.7,152.1L971.7,152.6L974.6,153.1L977.6,153.7L980.5,154.2L983.5,154.8L986.4,155.3L989.4,155.9L992.3,156.5L995.3,157.0L998.2,157.6L1001.2,158.2L1004.1,158.8L1007.1,159.5L1010.0,160.1L1013.0,160.7L1016.0,161.3L1018.9,162.0L1021.9,162.6L1024.8,163.3L1027.8,163.9L1030.7,164.6L1033.7,165.2L1036.6,165.9L1039.6,166.6L1042.5,167.3L1045.5,167.9L1048.4,168.6L1051.4,169.3L1054.3,170.0L1057.3,170.7L1060.2,171.4L1063.2,172.1L1066.1,172.8L1069.1,173.5L1072.0,174.2L1075.0,174.9L1078.0,175.6L1080.9,176.3L1083.9,177.0L1086.8,177.7L1089.8,178.4L1092.7,179.1L1095.7,179.8L1098.6,180.5L1101.6,181.2L1104.5,181.9L1107.5,182.6L1110.4,183.3L1113.4,184.0L1116.3,184.7L1119.3,185.4L1122.2,186.1L1125.2,186.8L1128.1,187.5L1131.1,188.2L1134.0,188.9L1137.0,189.6L1140.0,190.3L1142.9,191.0L1145.9,191.7L1148.8,192.3L1151.8,193.0L1154.7,193.7L1157.7,194.3L1160.6,195.0L1163.6,195.7L1166.5,196.3L1169.5,197.0L1172.4,197.7L1175.4,198.3L1178.3,199.0L1181.3,199.6L1184.2,200.2L1187.2,200.9L1190.1,201.5L1193.1,202.1L1196.0,202.8L1199.0,203.4L1202.0,204.0L1204.9,204.6L1207.9,205.2L1210.8,205.8L1213.8,206.4L1216.7,207.0L1219.7,207.6L1222.6,208.2L1225.6,208.8L1228.5,209.4L1231.5,210.0L1234.4,210.6L1237.4,211.1L1240.3,211.7L1243.3,212.3L1246.2,212.8L1249.2,213.4L1252.1,213.9L1255.1,214.5L1258.0,215.0L1261.0,215.6L1264.0,216.1L1266.9,216.6L1269.9,217.1L1272.8,217.7L1275.8,218.2L1278.7,218.7L1281.7,219.2L1284.6,219.7L1287.6,220.2L1290.5,220.7L1293.5,221.2L1296.4,221.7L1299.4,222.2L1302.3,222.7L1305.3,223.1L1308.2,223.6L1311.2,224.1L1314.1,224.6L1317.1,225.0L1320.0,225.5L1323.0,225.9L1326.0,226.4L1328.9,226.8L1331.9,227.3L1334.8,227.7L1337.8,228.1L1340.7,228.6L1343.7,229.0L1346.6,229.4L1349.6,229.8L1352.5,230.3L1355.5,230.7L1358.4,231.1L1361.4,231.5L1364.3,231.9L1367.3,232.3L1370.2,232.7L1373.2,233.1L1376.1,233.5L1379.1,233.9L1382.0,234.2L1385.0,234.6L1388.0,235.0L1390.9,235.4L1393.9,235.7L1396.8,236.1L1399.8,236.5L1402.7,236.8L1405.7,237.2L1408.6,237.5L1411.6,237.9L1414.5,238.2L1417.5,238.6L1420.4,238.9L1423.4,239.2L1426.3,239.6L1429.3,239.9L1432.2,240.2L1435.2,240.5L1438.1,240.9L1441.1,241.2L1444.0,241.5L1447.0,241.8" fill="none" stroke="#30f030" stroke-width="1.3" stroke-dasharray="2.5,5"/>
<path d="M268.1,241.1h15M275.6,235.1v12M286.9,239.0h15M294.4,233.0v12M307.5,236.6h15M315.0,230.6v12M328.1,234.0h15M335.6,228.0v12M349.3,231.2h15M356.8,225.2v12M370.3,228.2h15M377.8,222.2v12M390.5,225.2h15M398.0,219.2v12M411.8,221.7h15M419.3,215.7v12M431.7,218.4h15M439.2,212.4v12M434.1,218.0h15M441.6,212.0v12M436.4,217.5h15M443.9,211.5v12M438.8,217.1h15M446.3,211.1v12M441.1,216.7h15M448.6,210.7v12M444.1,216.2h15M451.6,210.2v12M447.0,215.6h15M454.5,209.6v12M450.0,215.1h15M457.5,209.1v12M452.9,214.6h15M460.4,208.6v12M455.9,214.0h15M463.4,208.0v12M458.8,213.5h15M466.3,207.5v12M461.8,212.9h15M469.3,206.9v12M464.7,212.4h15M472.2,206.4v12M467.7,211.8h15M475.2,205.8v12M470.6,211.2h15M478.1,205.2v12M473.5,210.7h15M481.0,204.7v12M476.5,210.1h15M484.0,204.1v12M479.4,209.5h15M486.9,203.5v12M482.4,208.9h15M489.9,202.9v12M485.3,208.3h15M492.8,202.3v12M488.3,207.8h15M495.8,201.8v12M491.2,207.2h15M498.7,201.2v12M494.2,206.6h15M501.7,200.6v12M497.1,206.0h15M504.6,200.0v12M500.0,205.4h15M507.5,199.4v12M503.0,204.7h15M510.5,198.7v12M505.9,204.1h15M513.4,198.1v12M508.9,203.5h15M516.4,197.5v12M511.8,202.9h15M519.3,196.9v12M514.8,202.3h15M522.3,196.3v12M517.7,201.6h15M525.2,195.6v12M520.7,201.0h15M528.2,195.0v12M523.6,200.4h15M531.1,194.4v12M526.5,199.7h15M534.0,193.7v12M529.5,199.1h15M537.0,193.1v12M532.4,198.5h15M539.9,192.5v12M535.4,197.8h15M542.9,191.8v12M538.3,197.2h15M545.8,191.2v12M541.3,196.5h15M548.8,190.5v12M544.2,195.8h15M551.7,189.8v12M547.2,195.2h15M554.7,189.2v12M550.1,194.5h15M557.6,188.5v12M553.1,193.8h15M560.6,187.8v12M556.0,193.2h15M563.5,187.2v12M558.9,192.5h15M566.4,186.5v12M561.9,191.8h15M569.4,185.8v12M564.8,191.1h15M572.3,185.1v12M567.8,190.5h15M575.3,184.5v12M570.7,189.8h15M578.2,183.8v12M573.7,189.1h15M581.2,183.1v12M576.6,188.4h15M584.1,182.4v12M579.6,187.7h15M587.1,181.7v12M582.5,187.0h15M590.0,181.0v12M585.5,186.3h15M593.0,180.3v12M588.4,185.6h15M595.9,179.6v12M591.3,184.9h15M598.8,178.9v12M594.3,184.2h15M601.8,178.2v12M597.2,183.5h15M604.7,177.5v12M600.2,182.8h15M607.7,176.8v12M603.1,182.1h15M610.6,176.1v12M606.1,181.4h15M613.6,175.4v12M609.0,180.7h15M616.5,174.7v12M612.0,180.0h15M619.5,174.0v12M614.9,179.3h15M622.4,173.3v12M617.8,178.6h15M625.3,172.6v12M620.8,177.9h15M628.3,171.9v12M623.7,177.2h15M631.2,171.2v12M626.7,176.5h15M634.2,170.5v12M629.6,175.8h15M637.1,169.8v12M632.6,175.1h15M640.1,169.1v12M635.5,174.4h15M643.0,168.4v12M638.5,173.7h15M646.0,167.7v12M641.4,173.0h15M648.9,167.0v12M644.4,172.3h15M651.9,166.3v12M647.3,171.6h15M654.8,165.6v12M650.2,170.9h15M657.7,164.9v12M653.2,170.2h15M660.7,164.2v12M656.1,169.5h15M663.6,163.5v12M659.1,168.9h15M666.6,162.9v12M662.0,168.2h15M669.5,162.2v12M665.0,167.5h15M672.5,161.5v12M667.9,166.8h15M675.4,160.8v12M670.9,166.2h15M678.4,160.2v12M673.8,165.5h15M681.3,159.5v12M676.7,164.8h15M684.2,158.8v12M679.7,164.2h15M687.2,158.2v12M682.6,163.5h15M690.1,157.5v12M685.6,162.9h15M693.1,156.9v12M688.5,162.2h15M696.0,156.2v12M691.5,161.6h15M699.0,155.6v12M694.4,160.9h15M701.9,154.9v12M697.4,160.3h15M704.9,154.3v12M700.3,159.7h15M707.8,153.7v12M703.2,159.1h15M710.8,153.1v12M706.2,158.5h15M713.7,152.5v12M709.1,157.9h15M716.6,151.9v12M712.1,157.3h15M719.6,151.3v12M715.0,156.7h15M722.5,150.7v12M718.0,156.1h15M725.5,150.1v12M720.9,155.5h15M728.4,149.5v12M723.9,155.0h15M731.4,149.0v12M726.8,154.4h15M734.3,148.4v12M729.8,153.9h15M737.3,147.9v12M732.7,153.3h15M740.2,147.3v12M735.6,152.8h15M743.1,146.8v12M738.6,152.3h15M746.1,146.3v12M741.5,151.8h15M749.0,145.8v12M744.5,151.3h15M752.0,145.3v12M747.4,150.8h15M754.9,144.8v12M750.4,150.4h15M757.9,144.4v12M753.3,149.9h15M760.8,143.9v12M756.3,149.4h15M763.8,143.4v12M759.2,149.0h15M766.7,143.0v12M762.1,148.6h15M769.6,142.6v12M765.1,148.2h15M772.6,142.2v12M768.0,147.8h15M775.5,141.8v12M771.0,147.4h15M778.5,141.4v12M773.9,147.0h15M781.4,141.0v12M776.9,146.6h15M784.4,140.6v12M779.8,146.3h15M787.3,140.3v12M782.8,145.9h15M790.3,139.9v12M785.7,145.6h15M793.2,139.6v12M788.7,145.3h15M796.2,139.3v12M791.6,145.0h15M799.1,139.0v12M794.5,144.7h15M802.0,138.7v12M797.5,144.4h15M805.0,138.4v12M800.4,144.2h15M807.9,138.2v12M803.4,144.0h15M810.9,138.0v12M806.3,143.7h15M813.8,137.7v12M809.3,143.5h15M816.8,137.5v12M812.2,143.3h15M819.7,137.3v12M815.2,143.1h15M822.7,137.1v12M818.1,143.0h15M825.6,137.0v12M821.0,142.8h15M828.5,136.8v12M824.0,142.7h15M831.5,136.7v12M826.9,142.6h15M834.4,136.6v12M829.9,142.4h15M837.4,136.4v12M832.8,142.3h15M840.3,136.3v12M835.8,142.3h15M843.3,136.3v12M838.7,142.2h15M846.2,136.2v12M841.7,142.2h15M849.2,136.2v12M844.6,142.1h15M852.1,136.1v12M847.6,142.1h15M855.1,136.1v12M850.5,142.1h15M858.0,136.1v12M856.3,142.1h15M863.8,136.1v12M859.7,142.2h15M867.2,136.2v12M863.0,142.2h15M870.5,136.2v12M866.4,142.3h15M873.9,136.3v12M869.8,142.4h15M877.3,136.4v12M873.2,142.5h15M880.7,136.5v12M876.6,142.7h15M884.1,136.7v12M880.0,142.8h15M887.5,136.8v12M883.4,143.0h15M890.9,137.0v12M886.7,143.2h15M894.2,137.2v12M890.1,143.4h15M897.6,137.4v12M893.5,143.6h15M901.0,137.6v12M897.2,143.9h15M904.7,137.9v12M901.1,144.2h15M908.6,138.2v12M905.4,144.6h15M912.9,138.6v12M910.0,145.1h15M917.5,139.1v12M915.1,145.6h15M922.6,139.6v12M920.5,146.2h15M928.0,140.2v12M926.5,146.9h15M934.0,140.9v12M932.9,147.7h15M940.4,141.7v12M939.9,148.7h15M947.4,142.7v12M947.4,149.8h15M954.9,143.8v12M955.6,151.2h15M963.1,145.2v12M964.5,152.7h15M972.0,146.7v12M974.5,154.5h15M982.0,148.5v12M985.5,156.6h15M993.0,150.6v12M997.5,159.0h15M1005.0,153.0v12M1009.0,161.5h15M1016.5,155.5v12M1022.5,164.4h15M1030.0,158.4v12M1035.5,167.4h15M1043.0,161.4v12M1047.5,170.2h15M1055.0,164.2v12M1059.5,173.0h15M1067.0,167.0v12M1072.5,176.1h15M1080.0,170.1v12M1086.5,179.4h15M1094.0,173.4v12M1100.5,182.8h15M1108.0,176.8v12M1116.5,186.6h15M1124.0,180.6v12M1132.5,190.3h15M1140.0,184.3v12M1149.0,194.1h15M1156.5,188.1v12M1167.5,198.2h15M1175.0,192.2v12M1187.0,202.4h15M1194.5,196.4v12M1207.5,206.7h15M1215.0,200.7v12M1230.5,211.3h15M1238.0,205.3v12M1253.0,215.5h15M1260.5,209.5v12M1278.5,220.0h15M1286.0,214.0v12M1307.0,224.6h15M1314.5,218.6v12M1338.0,229.3h15M1345.5,223.3v12M1373.2,234.1h15M1380.7,228.1v12M1410.0,238.6h15M1417.5,232.6v12M269.2,236.0l12.75,10.2M269.2,246.2l12.75,-10.2M288.0,233.9l12.75,10.2M288.0,244.1l12.75,-10.2M308.6,231.5l12.75,10.2M308.6,241.7l12.75,-10.2M329.2,228.9l12.75,10.2M329.2,239.1l12.75,-10.2M350.4,226.1l12.75,10.2M350.4,236.3l12.75,-10.2M371.4,223.1l12.75,10.2M371.4,233.3l12.75,-10.2M391.6,220.1l12.75,10.2M391.6,230.3l12.75,-10.2M412.9,216.6l12.75,10.2M412.9,226.8l12.75,-10.2M432.8,213.3l12.75,10.2M432.8,223.5l12.75,-10.2M435.2,212.9l12.75,10.2M435.2,223.1l12.75,-10.2M437.6,212.4l12.75,10.2M437.6,222.6l12.75,-10.2M439.9,212.0l12.75,10.2M439.9,222.2l12.75,-10.2M442.3,211.6l12.75,10.2M442.3,221.8l12.75,-10.2M445.2,211.1l12.75,10.2M445.2,221.3l12.75,-10.2M448.2,210.5l12.75,10.2M448.2,220.7l12.75,-10.2M451.1,210.0l12.75,10.2M451.1,220.2l12.75,-10.2M454.1,209.5l12.75,10.2M454.1,219.7l12.75,-10.2M457.0,208.9l12.75,10.2M457.0,219.1l12.75,-10.2M459.9,208.4l12.75,10.2M459.9,218.6l12.75,-10.2M462.9,207.8l12.75,10.2M462.9,218.0l12.75,-10.2M465.8,207.3l12.75,10.2M465.8,217.5l12.75,-10.2M468.8,206.7l12.75,10.2M468.8,216.9l12.75,-10.2M471.7,206.1l12.75,10.2M471.7,216.3l12.75,-10.2M474.7,205.6l12.75,10.2M474.7,215.8l12.75,-10.2M477.6,205.0l12.75,10.2M477.6,215.2l12.75,-10.2M480.6,204.4l12.75,10.2M480.6,214.6l12.75,-10.2M483.5,203.8l12.75,10.2M483.5,214.0l12.75,-10.2M486.4,203.2l12.75,10.2M486.4,213.4l12.75,-10.2M489.4,202.7l12.75,10.2M489.4,212.9l12.75,-10.2M492.3,202.1l12.75,10.2M492.3,212.3l12.75,-10.2M495.3,201.5l12.75,10.2M495.3,211.7l12.75,-10.2M498.2,200.9l12.75,10.2M498.2,211.1l12.75,-10.2M501.2,200.3l12.75,10.2M501.2,210.5l12.75,-10.2M504.1,199.6l12.75,10.2M504.1,209.8l12.75,-10.2M507.1,199.0l12.75,10.2M507.1,209.2l12.75,-10.2M510.0,198.4l12.75,10.2M510.0,208.6l12.75,-10.2M513.0,197.8l12.75,10.2M513.0,208.0l12.75,-10.2M515.9,197.2l12.75,10.2M515.9,207.4l12.75,-10.2M518.8,196.5l12.75,10.2M518.8,206.7l12.75,-10.2M521.8,195.9l12.75,10.2M521.8,206.1l12.75,-10.2M524.7,195.3l12.75,10.2M524.7,205.5l12.75,-10.2M527.7,194.6l12.75,10.2M527.7,204.8l12.75,-10.2M530.6,194.0l12.75,10.2M530.6,204.2l12.75,-10.2M533.6,193.4l12.75,10.2M533.6,203.6l12.75,-10.2M536.5,192.7l12.75,10.2M536.5,202.9l12.75,-10.2M539.5,192.1l12.75,10.2M539.5,202.3l12.75,-10.2M542.4,191.4l12.75,10.2M542.4,201.6l12.75,-10.2M545.3,190.7l12.75,10.2M545.3,200.9l12.75,-10.2M548.3,190.1l12.75,10.2M548.3,200.3l12.75,-10.2M551.2,189.4l12.75,10.2M551.2,199.6l12.75,-10.2M554.2,188.7l12.75,10.2M554.2,198.9l12.75,-10.2M557.1,188.1l12.75,10.2M557.1,198.3l12.75,-10.2M560.1,187.4l12.75,10.2M560.1,197.6l12.75,-10.2M563.0,186.7l12.75,10.2M563.0,196.9l12.75,-10.2M566.0,186.0l12.75,10.2M566.0,196.2l12.75,-10.2M568.9,185.4l12.75,10.2M568.9,195.6l12.75,-10.2M571.9,184.7l12.75,10.2M571.9,194.9l12.75,-10.2M574.8,184.0l12.75,10.2M574.8,194.2l12.75,-10.2M577.7,183.3l12.75,10.2M577.7,193.5l12.75,-10.2M580.7,182.6l12.75,10.2M580.7,192.8l12.75,-10.2M583.6,181.9l12.75,10.2M583.6,192.1l12.75,-10.2M586.6,181.2l12.75,10.2M586.6,191.4l12.75,-10.2M589.5,180.5l12.75,10.2M589.5,190.7l12.75,-10.2M592.5,179.8l12.75,10.2M592.5,190.0l12.75,-10.2M595.4,179.1l12.75,10.2M595.4,189.3l12.75,-10.2M598.4,178.4l12.75,10.2M598.4,188.6l12.75,-10.2M601.3,177.7l12.75,10.2M601.3,187.9l12.75,-10.2M604.2,177.0l12.75,10.2M604.2,187.2l12.75,-10.2M607.2,176.3l12.75,10.2M607.2,186.5l12.75,-10.2M610.1,175.6l12.75,10.2M610.1,185.8l12.75,-10.2M613.1,174.9l12.75,10.2M613.1,185.1l12.75,-10.2M616.0,174.2l12.75,10.2M616.0,184.4l12.75,-10.2M619.0,173.5l12.75,10.2M619.0,183.7l12.75,-10.2M621.9,172.8l12.75,10.2M621.9,183.0l12.75,-10.2M624.9,172.1l12.75,10.2M624.9,182.3l12.75,-10.2M627.8,171.4l12.75,10.2M627.8,181.6l12.75,-10.2M630.8,170.7l12.75,10.2M630.8,180.9l12.75,-10.2M633.7,170.0l12.75,10.2M633.7,180.2l12.75,-10.2M636.6,169.3l12.75,10.2M636.6,179.5l12.75,-10.2M639.6,168.6l12.75,10.2M639.6,178.8l12.75,-10.2M642.5,167.9l12.75,10.2M642.5,178.1l12.75,-10.2M645.5,167.2l12.75,10.2M645.5,177.4l12.75,-10.2M648.4,166.5l12.75,10.2M648.4,176.7l12.75,-10.2M651.4,165.8l12.75,10.2M651.4,176.0l12.75,-10.2M654.3,165.1l12.75,10.2M654.3,175.3l12.75,-10.2M657.3,164.4l12.75,10.2M657.3,174.6l12.75,-10.2M660.2,163.8l12.75,10.2M660.2,174.0l12.75,-10.2M663.1,163.1l12.75,10.2M663.1,173.3l12.75,-10.2M666.1,162.4l12.75,10.2M666.1,172.6l12.75,-10.2M669.0,161.7l12.75,10.2M669.0,171.9l12.75,-10.2M672.0,161.1l12.75,10.2M672.0,171.3l12.75,-10.2M674.9,160.4l12.75,10.2M674.9,170.6l12.75,-10.2M677.9,159.7l12.75,10.2M677.9,169.9l12.75,-10.2M680.8,159.1l12.75,10.2M680.8,169.3l12.75,-10.2M683.8,158.4l12.75,10.2M683.8,168.6l12.75,-10.2M686.7,157.8l12.75,10.2M686.7,168.0l12.75,-10.2M689.6,157.1l12.75,10.2M689.6,167.3l12.75,-10.2M692.6,156.5l12.75,10.2M692.6,166.7l12.75,-10.2M695.5,155.8l12.75,10.2M695.5,166.0l12.75,-10.2M698.5,155.2l12.75,10.2M698.5,165.4l12.75,-10.2M701.4,154.6l12.75,10.2M701.4,164.8l12.75,-10.2M704.4,154.0l12.75,10.2M704.4,164.2l12.75,-10.2M707.3,153.4l12.75,10.2M707.3,163.6l12.75,-10.2M710.3,152.8l12.75,10.2M710.3,163.0l12.75,-10.2M713.2,152.2l12.75,10.2M713.2,162.4l12.75,-10.2M716.2,151.6l12.75,10.2M716.2,161.8l12.75,-10.2M719.1,151.0l12.75,10.2M719.1,161.2l12.75,-10.2M722.0,150.4l12.75,10.2M722.0,160.6l12.75,-10.2M725.0,149.9l12.75,10.2M725.0,160.1l12.75,-10.2M727.9,149.3l12.75,10.2M727.9,159.5l12.75,-10.2M730.9,148.8l12.75,10.2M730.9,159.0l12.75,-10.2M733.8,148.2l12.75,10.2M733.8,158.4l12.75,-10.2M736.8,147.7l12.75,10.2M736.8,157.9l12.75,-10.2M739.7,147.2l12.75,10.2M739.7,157.4l12.75,-10.2M742.7,146.7l12.75,10.2M742.7,156.9l12.75,-10.2M745.6,146.2l12.75,10.2M745.6,156.4l12.75,-10.2M748.5,145.7l12.75,10.2M748.5,155.9l12.75,-10.2M751.5,145.3l12.75,10.2M751.5,155.5l12.75,-10.2M754.4,144.8l12.75,10.2M754.4,155.0l12.75,-10.2M757.4,144.3l12.75,10.2M757.4,154.5l12.75,-10.2M760.3,143.9l12.75,10.2M760.3,154.1l12.75,-10.2M763.3,143.5l12.75,10.2M763.3,153.7l12.75,-10.2M766.2,143.1l12.75,10.2M766.2,153.3l12.75,-10.2M769.2,142.7l12.75,10.2M769.2,152.9l12.75,-10.2M772.1,142.3l12.75,10.2M772.1,152.5l12.75,-10.2M775.1,141.9l12.75,10.2M775.1,152.1l12.75,-10.2M778.0,141.5l12.75,10.2M778.0,151.7l12.75,-10.2M780.9,141.2l12.75,10.2M780.9,151.4l12.75,-10.2M783.9,140.8l12.75,10.2M783.9,151.0l12.75,-10.2M786.8,140.5l12.75,10.2M786.8,150.7l12.75,-10.2M789.8,140.2l12.75,10.2M789.8,150.4l12.75,-10.2M792.7,139.9l12.75,10.2M792.7,150.1l12.75,-10.2M795.7,139.6l12.75,10.2M795.7,149.8l12.75,-10.2M798.6,139.3l12.75,10.2M798.6,149.5l12.75,-10.2M801.6,139.1l12.75,10.2M801.6,149.3l12.75,-10.2M804.5,138.9l12.75,10.2M804.5,149.1l12.75,-10.2M807.5,138.6l12.75,10.2M807.5,148.8l12.75,-10.2M810.4,138.4l12.75,10.2M810.4,148.6l12.75,-10.2M813.3,138.2l12.75,10.2M813.3,148.4l12.75,-10.2M816.3,138.0l12.75,10.2M816.3,148.2l12.75,-10.2M819.2,137.9l12.75,10.2M819.2,148.1l12.75,-10.2M822.2,137.7l12.75,10.2M822.2,147.9l12.75,-10.2M825.1,137.6l12.75,10.2M825.1,147.8l12.75,-10.2M828.1,137.5l12.75,10.2M828.1,147.7l12.75,-10.2M831.0,137.3l12.75,10.2M831.0,147.5l12.75,-10.2M834.0,137.2l12.75,10.2M834.0,147.4l12.75,-10.2M836.9,137.2l12.75,10.2M836.9,147.4l12.75,-10.2M839.8,137.1l12.75,10.2M839.8,147.3l12.75,-10.2M842.8,137.1l12.75,10.2M842.8,147.3l12.75,-10.2M845.7,137.0l12.75,10.2M845.7,147.2l12.75,-10.2M848.7,137.0l12.75,10.2M848.7,147.2l12.75,-10.2M851.6,137.0l12.75,10.2M851.6,147.2l12.75,-10.2M857.4,137.0l12.75,10.2M857.4,147.2l12.75,-10.2M860.8,137.1l12.75,10.2M860.8,147.3l12.75,-10.2M864.2,137.1l12.75,10.2M864.2,147.3l12.75,-10.2M867.6,137.2l12.75,10.2M867.6,147.4l12.75,-10.2M870.9,137.3l12.75,10.2M870.9,147.5l12.75,-10.2M874.3,137.4l12.75,10.2M874.3,147.6l12.75,-10.2M877.7,137.6l12.75,10.2M877.7,147.8l12.75,-10.2M881.1,137.7l12.75,10.2M881.1,147.9l12.75,-10.2M884.5,137.9l12.75,10.2M884.5,148.1l12.75,-10.2M887.9,138.1l12.75,10.2M887.9,148.3l12.75,-10.2M891.3,138.3l12.75,10.2M891.3,148.5l12.75,-10.2M894.6,138.5l12.75,10.2M894.6,148.7l12.75,-10.2M898.3,138.8l12.75,10.2M898.3,149.0l12.75,-10.2M902.2,139.1l12.75,10.2M902.2,149.3l12.75,-10.2M906.5,139.5l12.75,10.2M906.5,149.7l12.75,-10.2M911.2,140.0l12.75,10.2M911.2,150.2l12.75,-10.2M916.2,140.5l12.75,10.2M916.2,150.7l12.75,-10.2M921.7,141.1l12.75,10.2M921.7,151.3l12.75,-10.2M927.6,141.8l12.75,10.2M927.6,152.0l12.75,-10.2M934.0,142.6l12.75,10.2M934.0,152.8l12.75,-10.2M941.0,143.6l12.75,10.2M941.0,153.8l12.75,-10.2M948.5,144.7l12.75,10.2M948.5,154.9l12.75,-10.2M956.7,146.1l12.75,10.2M956.7,156.3l12.75,-10.2M965.6,147.6l12.75,10.2M965.6,157.8l12.75,-10.2M975.6,149.4l12.75,10.2M975.6,159.6l12.75,-10.2M986.6,151.5l12.75,10.2M986.6,161.7l12.75,-10.2M998.6,153.9l12.75,10.2M998.6,164.1l12.75,-10.2M1010.1,156.4l12.75,10.2M1010.1,166.6l12.75,-10.2M1023.6,159.3l12.75,10.2M1023.6,169.5l12.75,-10.2M1036.6,162.3l12.75,10.2M1036.6,172.5l12.75,-10.2M1048.6,165.1l12.75,10.2M1048.6,175.3l12.75,-10.2M1060.6,167.9l12.75,10.2M1060.6,178.1l12.75,-10.2M1073.6,171.0l12.75,10.2M1073.6,181.2l12.75,-10.2M1087.6,174.3l12.75,10.2M1087.6,184.5l12.75,-10.2M1101.6,177.7l12.75,10.2M1101.6,187.9l12.75,-10.2M1117.6,181.5l12.75,10.2M1117.6,191.7l12.75,-10.2M1133.6,185.2l12.75,10.2M1133.6,195.4l12.75,-10.2M1150.1,189.0l12.75,10.2M1150.1,199.2l12.75,-10.2M1168.6,193.1l12.75,10.2M1168.6,203.3l12.75,-10.2M1188.1,197.3l12.75,10.2M1188.1,207.5l12.75,-10.2M1208.6,201.6l12.75,10.2M1208.6,211.8l12.75,-10.2M1231.6,206.2l12.75,10.2M1231.6,216.4l12.75,-10.2M1254.1,210.4l12.75,10.2M1254.1,220.6l12.75,-10.2M1279.6,214.9l12.75,10.2M1279.6,225.1l12.75,-10.2M1308.1,219.5l12.75,10.2M1308.1,229.7l12.75,-10.2M1339.1,224.2l12.75,10.2M1339.1,234.4l12.75,-10.2M1374.3,229.0l12.75,10.2M1374.3,239.2l12.75,-10.2M1411.1,233.5l12.75,10.2M1411.1,243.7l12.75,-10.2" fill="none" stroke="#00ee00" stroke-width="1.9"/>
<path d="M262.0,219.3h14v11h-14zM267.9,218.9h14v11h-14zM273.8,218.5h14v11h-14zM279.7,218.2h14v11h-14zM285.6,217.8h14v11h-14zM291.5,217.4h14v11h-14zM297.3,217.0h14v11h-14zM303.2,216.6h14v11h-14zM309.1,216.2h14v11h-14zM315.0,215.7h14v11h-14zM320.9,215.3h14v11h-14zM326.8,214.9h14v11h-14zM332.7,214.4h14v11h-14zM338.6,213.9h14v11h-14zM344.5,213.4h14v11h-14zM350.4,213.0h14v11h-14zM356.2,212.5h14v11h-14zM362.1,211.9h14v11h-14zM368.0,211.4h14v11h-14zM373.9,210.9h14v11h-14zM379.8,210.3h14v11h-14zM385.7,209.8h14v11h-14zM391.6,209.2h14v11h-14zM397.5,208.6h14v11h-14zM403.4,208.0h14v11h-14zM409.2,207.4h14v11h-14zM415.1,206.8h14v11h-14zM421.0,206.1h14v11h-14zM426.9,205.5h14v11h-14zM432.8,204.8h14v11h-14zM438.7,204.1h14v11h-14zM444.6,203.4h14v11h-14zM450.5,202.7h14v11h-14zM456.4,202.0h14v11h-14zM462.3,201.2h14v11h-14zM468.2,200.4h14v11h-14zM474.0,199.6h14v11h-14zM479.9,198.8h14v11h-14zM485.8,198.0h14v11h-14zM491.7,197.2h14v11h-14zM497.6,196.3h14v11h-14zM503.5,195.5h14v11h-14zM509.4,194.6h14v11h-14zM515.3,193.7h14v11h-14zM521.2,192.7h14v11h-14zM527.0,191.8h14v11h-14zM532.9,190.8h14v11h-14zM538.8,189.8h14v11h-14zM544.7,188.8h14v11h-14zM550.6,187.8h14v11h-14zM556.5,186.8h14v11h-14zM562.4,185.7h14v11h-14zM568.3,184.7h14v11h-14zM574.2,183.6h14v11h-14zM580.1,182.5h14v11h-14zM586.0,181.4h14v11h-14zM591.8,180.2h14v11h-14zM597.7,179.1h14v11h-14zM603.6,177.9h14v11h-14zM609.5,176.7h14v11h-14zM615.4,175.5h14v11h-14zM621.3,174.3h14v11h-14zM627.2,173.1h14v11h-14zM633.1,171.9h14v11h-14zM639.0,170.7h14v11h-14zM644.9,169.5h14v11h-14zM650.7,168.2h14v11h-14zM656.6,167.0h14v11h-14zM662.5,165.8h14v11h-14zM668.4,164.5h14v11h-14zM674.3,163.3h14v11h-14zM680.2,162.1h14v11h-14zM686.1,160.9h14v11h-14zM692.0,159.7h14v11h-14zM697.9,158.5h14v11h-14zM703.8,157.3h14v11h-14zM709.6,156.1h14v11h-14zM715.5,155.0h14v11h-14zM721.4,153.9h14v11h-14zM727.3,152.8h14v11h-14zM733.2,151.8h14v11h-14zM739.1,150.7h14v11h-14zM745.0,149.8h14v11h-14zM750.9,148.8h14v11h-14zM756.8,147.9h14v11h-14zM762.6,147.1h14v11h-14zM768.5,146.2h14v11h-14zM774.4,145.5h14v11h-14zM780.3,144.8h14v11h-14zM786.2,144.1h14v11h-14zM792.1,143.5h14v11h-14zM798.0,143.0h14v11h-14zM803.9,142.5h14v11h-14zM809.8,142.0h14v11h-14zM815.7,141.7h14v11h-14zM821.5,141.4h14v11h-14zM827.4,141.1h14v11h-14zM833.3,140.9h14v11h-14zM839.2,140.8h14v11h-14zM845.1,140.7h14v11h-14zM851.0,140.7h14v11h-14zM856.9,140.7h14v11h-14zM862.8,140.8h14v11h-14zM868.7,140.9h14v11h-14zM874.6,141.1h14v11h-14zM880.5,141.4h14v11h-14zM886.3,141.7h14v11h-14zM892.2,142.0h14v11h-14zM898.1,142.5h14v11h-14zM904.0,143.0h14v11h-14zM909.9,143.5h14v11h-14zM915.8,144.1h14v11h-14zM921.7,144.8h14v11h-14zM927.6,145.5h14v11h-14zM933.5,146.2h14v11h-14zM939.4,147.1h14v11h-14zM945.2,147.9h14v11h-14zM951.1,148.8h14v11h-14zM957.0,149.8h14v11h-14zM962.9,150.7h14v11h-14zM968.8,151.8h14v11h-14zM974.7,152.8h14v11h-14zM980.6,153.9h14v11h-14zM986.5,155.0h14v11h-14zM992.4,156.1h14v11h-14zM998.2,157.3h14v11h-14zM1004.1,158.5h14v11h-14zM1010.0,159.7h14v11h-14zM1015.9,160.9h14v11h-14zM1021.8,162.1h14v11h-14zM1027.7,163.3h14v11h-14zM1033.6,164.5h14v11h-14zM1039.5,165.8h14v11h-14zM1045.4,167.0h14v11h-14zM1051.3,168.2h14v11h-14zM1057.2,169.5h14v11h-14zM1063.0,170.7h14v11h-14zM1068.9,171.9h14v11h-14zM1074.8,173.1h14v11h-14zM1080.7,174.3h14v11h-14zM1086.6,175.5h14v11h-14zM1092.5,176.7h14v11h-14zM1098.4,177.9h14v11h-14zM1104.3,179.1h14v11h-14zM1110.2,180.2h14v11h-14zM1116.0,181.4h14v11h-14zM1121.9,182.5h14v11h-14zM1127.8,183.6h14v11h-14zM1133.7,184.7h14v11h-14zM1139.6,185.7h14v11h-14zM1145.5,186.8h14v11h-14zM1151.4,187.8h14v11h-14zM1157.3,188.8h14v11h-14zM1163.2,189.8h14v11h-14zM1169.1,190.8h14v11h-14zM1175.0,191.8h14v11h-14zM1180.8,192.7h14v11h-14zM1186.7,193.7h14v11h-14zM1192.6,194.6h14v11h-14zM1198.5,195.5h14v11h-14zM1204.4,196.3h14v11h-14zM1210.3,197.2h14v11h-14zM1216.2,198.0h14v11h-14zM1222.1,198.8h14v11h-14zM1228.0,199.6h14v11h-14zM1233.8,200.4h14v11h-14zM1239.7,201.2h14v11h-14zM1245.6,202.0h14v11h-14zM1251.5,202.7h14v11h-14zM1257.4,203.4h14v11h-14zM1263.3,204.1h14v11h-14zM1269.2,204.8h14v11h-14zM1275.1,205.5h14v11h-14zM1281.0,206.1h14v11h-14zM1286.9,206.8h14v11h-14zM1292.8,207.4h14v11h-14zM1298.6,208.0h14v11h-14zM1304.5,208.6h14v11h-14zM1310.4,209.2h14v11h-14zM1316.3,209.8h14v11h-14zM1322.2,210.3h14v11h-14zM1328.1,210.9h14v11h-14zM1334.0,211.4h14v11h-14zM1339.9,211.9h14v11h-14zM1345.8,212.5h14v11h-14zM1351.7,213.0h14v11h-14zM1357.5,213.4h14v11h-14zM1363.4,213.9h14v11h-14zM1369.3,214.4h14v11h-14zM1375.2,214.9h14v11h-14zM1381.1,215.3h14v11h-14zM1387.0,215.7h14v11h-14zM1392.9,216.2h14v11h-14zM1398.8,216.6h14v11h-14zM1404.7,217.0h14v11h-14zM1410.5,217.4h14v11h-14zM1416.4,217.8h14v11h-14zM1422.3,218.2h14v11h-14zM1428.2,218.5h14v11h-14zM1434.1,218.9h14v11h-14zM1440.0,219.3h14v11h-14z" fill="#ffa500" stroke="none"/>
</g>
<path d="M270.0,18.0V562.6" stroke="#000" stroke-width="2.4" fill="none"/>
<path d="M269.0,561.6H1448.0" stroke="#222" stroke-width="2.2" fill="none"/>
<path d="M270.0,18.5H1448.0" stroke="#777" stroke-width="1.8" fill="none"/>
<path d="M1447.0,18.5V561.6" stroke="#888" stroke-width="2.2" fill="none"/>
<path d="M415,561.6v-10M415,18.5v10M563.2,561.6v-10M563.2,18.5v10M709,561.6v-10M709,18.5v10M858,561.6v-10M858,18.5v10M1003.8,561.6v-10M1003.8,18.5v10M1151.6,561.6v-10M1151.6,18.5v10M1298,561.6v-10M1298,18.5v10M270.0,127.1h14M1447.0,127.1h-14M270.0,235.7h14M1447.0,235.7h-14M270.0,344.4h14M1447.0,344.4h-14M270.0,453.0h14M1447.0,453.0h-14" stroke="#444" stroke-width="1.6" fill="none"/>
<path d="M1250.7,45.2H1387.2" stroke="#777" stroke-width="1.3"/>
<path d="M1310.5,45.2h17M1319.0,39.7v11" stroke="#111" stroke-width="1.5" fill="none"/>
<path d="M1250.7,79.8H1387.2" stroke="#ff7070" stroke-width="1.3" stroke-dasharray="9,4"/>
<path d="M1311.5,75.3l15,9M1311.5,84.3l15,-9" stroke="#ff2a2a" stroke-width="1.3" fill="none"/>
<path d="M1250.7,114.3H1383.2" stroke="#30f030" stroke-width="1.5" stroke-dasharray="5,7"/>
<path d="M1310.5,114.3h17M1319.0,108.3v12M1311.8,109.2l14.45,10.2M1311.8,119.4l14.45,-10.2" stroke="#00ee00" stroke-width="1.4" fill="none"/>
<path d="M1250.7,149.0H1387.2" stroke="#ffd9b0" stroke-width="2" stroke-dasharray="10,4,2,4"/>
<path d="M1310.5,143.0h17v12h-17z" fill="#ffa500"/>
<clipPath id="clipB"><rect x="264.5" y="747.5" width="1179.2" height="558.5"/></clipPath>
<g clip-path="url(#clipB)">
<path d="M273.5,1282.4L277.4,1276.9L281.3,1271.5L285.2,1266.0L289.0,1260.7L292.9,1255.3L296.8,1250.0L300.7,1244.7L304.6,1239.5L308.5,1234.3L312.3,1229.1L316.2,1224.0L320.1,1218.9L324.0,1213.9L327.9,1208.9L331.8,1203.9L335.6,1199.0L339.5,1194.1L343.4,1189.2L347.3,1184.4L351.2,1179.6L355.1,1174.9L358.9,1170.2L362.8,1165.5L366.7,1160.9L370.6,1156.3L374.5,1151.8L378.4,1147.3L382.2,1142.8L386.1,1138.4L390.0,1134.0L393.9,1129.6L397.8,1125.3L401.7,1121.0L405.5,1116.8L409.4,1112.6L413.3,1108.4L417.2,1104.3L421.1,1100.2L425.0,1096.1L428.8,1092.1L432.7,1088.1L436.6,1084.2L440.5,1080.3L444.4,1076.4L448.3,1072.6L452.1,1068.8L456.0,1065.1L459.9,1061.3L463.8,1057.7L467.7,1054.0L471.6,1050.4L475.4,1046.9L479.3,1043.3L483.2,1039.9L487.1,1036.4L491.0,1033.0L494.9,1029.6L498.7,1026.3L502.6,1023.0L506.5,1019.7L510.4,1016.5L514.3,1013.3L518.2,1010.2L522.1,1007.1L525.9,1004.0L529.8,1000.9L533.7,997.9L537.6,995.0L541.5,992.1L545.4,989.2L549.2,986.3L553.1,983.5L557.0,980.7L560.9,978.0L564.8,975.3L568.7,972.6L572.5,970.0L576.4,967.4L580.3,964.9L584.2,962.4L588.1,959.9L592.0,957.5L595.8,955.1L599.7,952.7L603.6,950.4L607.5,948.1L611.4,945.8L615.3,943.6L619.1,941.4L623.0,939.3L626.9,937.2L630.8,935.1L634.7,933.1L638.6,931.1L642.4,929.1L646.3,927.2L650.2,925.3L654.1,923.5L658.0,921.7L661.9,919.9L665.7,918.2L669.6,916.5L673.5,914.8L677.4,913.2L681.3,911.6L685.2,910.0L689.0,908.5L692.9,907.0L696.8,905.6L700.7,904.2L704.6,902.8L708.5,901.5L712.3,900.2L716.2,898.9L720.1,897.7L724.0,896.5L727.9,895.4L731.8,894.3L735.6,893.2L739.5,892.1L743.4,891.1L747.3,890.2L751.2,889.2L755.1,888.3L759.0,887.5L762.8,886.6L766.7,885.8L770.6,885.1L774.5,884.4L778.4,883.7L782.3,883.0L786.1,882.4L790.0,881.8L793.9,881.3L797.8,880.8L801.7,880.3L805.6,879.9L809.4,879.5L813.3,879.1L817.2,878.8L821.1,878.5L825.0,878.2L828.9,878.0L832.7,877.8L836.6,877.6L840.5,877.5L844.4,877.4L848.3,877.3L852.2,877.3L856.0,877.3L859.9,877.3L863.8,877.4L867.7,877.5L871.6,877.6L875.5,877.8L879.3,878.0L883.2,878.3L887.1,878.5L891.0,878.8L894.9,879.2L898.8,879.6L902.6,880.0L906.5,880.4L910.4,880.9L914.3,881.5L918.2,882.0L922.1,882.6L925.9,883.2L929.8,883.9L933.7,884.6L937.6,885.3L941.5,886.1L945.4,886.9L949.2,887.7L953.1,888.6L957.0,889.5L960.9,890.5L964.8,891.5L968.7,892.5L972.6,893.5L976.4,894.6L980.3,895.8L984.2,896.9L988.1,898.1L992.0,899.4L995.9,900.6L999.7,901.9L1003.6,903.3L1007.5,904.7L1011.4,906.1L1015.3,907.5L1019.2,909.0L1023.0,910.5L1026.9,912.1L1030.8,913.7L1034.7,915.3L1038.6,917.0L1042.5,918.7L1046.3,920.4L1050.2,922.2L1054.1,924.0L1058.0,925.8L1061.9,927.7L1065.8,929.6L1069.6,931.6L1073.5,933.6L1077.4,935.6L1081.3,937.6L1085.2,939.7L1089.1,941.9L1092.9,944.0L1096.8,946.2L1100.7,948.5L1104.6,950.8L1108.5,953.1L1112.4,955.4L1116.2,957.8L1120.1,960.2L1124.0,962.7L1127.9,965.2L1131.8,967.7L1135.7,970.3L1139.5,972.9L1143.4,975.5L1147.3,978.2L1151.2,980.9L1155.1,983.7L1159.0,986.4L1162.8,989.3L1166.7,992.1L1170.6,995.0L1174.5,997.9L1178.4,1000.9L1182.3,1003.9L1186.1,1006.9L1190.0,1010.0L1193.9,1013.1L1197.8,1016.3L1201.7,1019.4L1205.6,1022.7L1209.5,1025.9L1213.3,1029.2L1217.2,1032.5L1221.1,1035.9L1225.0,1039.3L1228.9,1042.7L1232.8,1046.2L1236.6,1049.7L1240.5,1053.3L1244.4,1056.9L1248.3,1060.5L1252.2,1064.1L1256.1,1067.8L1259.9,1071.5L1263.8,1075.3L1267.7,1079.1L1271.6,1082.9L1275.5,1086.8L1279.4,1090.7L1283.2,1094.7L1287.1,1098.7L1291.0,1102.7L1294.9,1106.7L1298.8,1110.8L1302.7,1114.9L1306.5,1119.1L1310.4,1123.3L1314.3,1127.5L1318.2,1131.8L1322.1,1136.1L1326.0,1140.5L1329.8,1144.9L1333.7,1149.3L1337.6,1153.7L1341.5,1158.2L1345.4,1162.8L1349.3,1167.3L1353.1,1171.9L1357.0,1176.6L1360.9,1181.2L1364.8,1185.9L1368.7,1190.7L1372.6,1195.5L1376.4,1200.3L1380.3,1205.2L1384.2,1210.0L1388.1,1215.0L1392.0,1219.9L1395.9,1224.9L1399.7,1230.0L1403.6,1235.1L1407.5,1240.2L1411.4,1245.3L1415.3,1250.5L1419.2,1255.7L1423.0,1261.0L1426.9,1266.3L1430.8,1271.6L1434.7,1277.0" fill="none" stroke="#444" stroke-width="1.2"/>
<path d="M280.0,1262.8h15M287.5,1257.3v11M300.6,1234.8h15M308.1,1229.3v11M321.4,1207.5h15M328.9,1202.0v11M342.5,1181.1h15M350.0,1175.6v11M363.8,1155.5h15M371.3,1150.0v11M385.3,1130.9h15M392.8,1125.4v11M406.9,1107.2h15M414.4,1101.7v11M428.8,1084.5h15M436.3,1079.0v11M451.0,1062.7h15M458.5,1057.2v11M473.3,1042.0h15M480.8,1036.5v11M495.8,1022.4h15M503.3,1016.9v11M518.6,1003.8h15M526.1,998.3v11M541.6,986.4h15M549.1,980.9v11M564.9,970.1h15M572.4,964.6v11M588.4,955.0h15M595.9,949.5v11M612.2,941.1h15M619.7,935.6v11M636.2,928.5h15M643.7,923.0v11M660.6,917.2h15M668.1,911.7v11M685.2,907.1h15M692.7,901.6v11M710.2,898.5h15M717.7,893.0v11M735.6,891.2h15M743.1,885.7v11M761.3,885.4h15M768.8,879.9v11M787.4,881.2h15M794.9,875.7v11M813.9,878.5h15M821.4,873.0v11M840.9,877.3h15M848.4,871.8v11M868.3,877.8h15M875.8,872.3v11M896.3,880.1h15M903.8,874.6v11M924.7,884.3h15M932.2,878.8v11M953.8,890.6h15M961.3,885.1v11M983.4,899.0h15M990.9,893.5v11M1013.6,909.8h15M1021.1,904.3v11M1044.5,923.0h15M1052.0,917.5v11M1076.2,938.9h15M1083.7,933.4v11M1108.5,957.7h15M1116.0,952.2v11M1141.6,979.5h15M1149.1,974.0v11M1175.6,1004.5h15M1183.1,999.0v11M1210.4,1033.1h15M1217.9,1027.6v11M1246.1,1065.4h15M1253.6,1059.9v11M1282.7,1101.8h15M1290.2,1096.3v11M1320.4,1142.6h15M1327.9,1137.1v11M1359.1,1188.1h15M1366.6,1182.6v11M1398.9,1238.7h15M1406.4,1233.2v11" fill="none" stroke="#111" stroke-width="1.8"/>
<path d="M273.5,1242.7L277.4,1237.8L281.3,1233.0L285.2,1228.1L289.0,1223.3L292.9,1218.6L296.8,1213.8L300.7,1209.1L304.6,1204.4L308.5,1199.8L312.3,1195.2L316.2,1190.6L320.1,1186.0L324.0,1181.5L327.9,1177.0L331.8,1172.6L335.6,1168.1L339.5,1163.7L343.4,1159.4L347.3,1155.0L351.2,1150.7L355.1,1146.5L358.9,1142.2L362.8,1138.0L366.7,1133.8L370.6,1129.7L374.5,1125.6L378.4,1121.5L382.2,1117.5L386.1,1113.4L390.0,1109.5L393.9,1105.5L397.8,1101.6L401.7,1097.7L405.5,1093.8L409.4,1090.0L413.3,1086.2L417.2,1082.5L421.1,1078.8L425.0,1075.1L428.8,1071.4L432.7,1067.8L436.6,1064.2L440.5,1060.6L444.4,1057.1L448.3,1053.6L452.1,1050.2L456.0,1046.7L459.9,1043.3L463.8,1040.0L467.7,1036.6L471.6,1033.4L475.4,1030.1L479.3,1026.9L483.2,1023.7L487.1,1020.5L491.0,1017.4L494.9,1014.3L498.7,1011.2L502.6,1008.2L506.5,1005.2L510.4,1002.2L514.3,999.3L518.2,996.4L522.1,993.6L525.9,990.7L529.8,987.9L533.7,985.2L537.6,982.5L541.5,979.8L545.4,977.1L549.2,974.5L553.1,971.9L557.0,969.3L560.9,966.8L564.8,964.3L568.7,961.9L572.5,959.5L576.4,957.1L580.3,954.7L584.2,952.4L588.1,950.1L592.0,947.9L595.8,945.6L599.7,943.5L603.6,941.3L607.5,939.2L611.4,937.1L615.3,935.1L619.1,933.1L623.0,931.1L626.9,929.1L630.8,927.2L634.7,925.4L638.6,923.5L642.4,921.7L646.3,919.9L650.2,918.2L654.1,916.5L658.0,914.8L661.9,913.2L665.7,911.6L669.6,910.0L673.5,908.5L677.4,907.0L681.3,905.5L685.2,904.1L689.0,902.7L692.9,901.3L696.8,900.0L700.7,898.7L704.6,897.4L708.5,896.2L712.3,895.0L716.2,893.8L720.1,892.7L724.0,891.6L727.9,890.5L731.8,889.5L735.6,888.5L739.5,887.6L743.4,886.6L747.3,885.7L751.2,884.9L755.1,884.1L759.0,883.3L762.8,882.5L766.7,881.8L770.6,881.1L774.5,880.4L778.4,879.8L782.3,879.2L786.1,878.6L790.0,878.1L793.9,877.6L797.8,877.2L801.7,876.7L805.6,876.3L809.4,876.0L813.3,875.6L817.2,875.3L821.1,875.1L825.0,874.8L828.9,874.6L832.7,874.4L836.6,874.3L840.5,874.2L844.4,874.1L848.3,874.0L852.2,874.0L856.0,874.0L859.9,874.0L863.8,874.1L867.7,874.2L871.6,874.3L875.5,874.4L879.3,874.6L883.2,874.8L887.1,875.0L891.0,875.3L894.9,875.6L898.8,875.9L902.6,876.3L906.5,876.7L910.4,877.1L914.3,877.6L918.2,878.1L922.1,878.6L925.9,879.2L929.8,879.8L933.7,880.4L937.6,881.0L941.5,881.7L945.4,882.5L949.2,883.2L953.1,884.0L957.0,884.8L960.9,885.7L964.8,886.6L968.7,887.5L972.6,888.5L976.4,889.5L980.3,890.5L984.2,891.6L988.1,892.7L992.0,893.8L995.9,895.0L999.7,896.2L1003.6,897.4L1007.5,898.7L1011.4,900.0L1015.3,901.3L1019.2,902.7L1023.0,904.1L1026.9,905.5L1030.8,907.0L1034.7,908.5L1038.6,910.0L1042.5,911.6L1046.3,913.2L1050.2,914.9L1054.1,916.5L1058.0,918.3L1061.9,920.0L1065.8,921.8L1069.6,923.6L1073.5,925.4L1077.4,927.3L1081.3,929.2L1085.2,931.2L1089.1,933.2L1092.9,935.2L1096.8,937.3L1100.7,939.3L1104.6,941.5L1108.5,943.6L1112.4,945.8L1116.2,948.0L1120.1,950.3L1124.0,952.6L1127.9,954.9L1131.8,957.3L1135.7,959.7L1139.5,962.1L1143.4,964.6L1147.3,967.1L1151.2,969.6L1155.1,972.2L1159.0,974.8L1162.8,977.4L1166.7,980.1L1170.6,982.8L1174.5,985.5L1178.4,988.2L1182.3,991.0L1186.1,993.9L1190.0,996.7L1193.9,999.6L1197.8,1002.6L1201.7,1005.5L1205.6,1008.5L1209.5,1011.6L1213.3,1014.6L1217.2,1017.7L1221.1,1020.9L1225.0,1024.0L1228.9,1027.2L1232.8,1030.4L1236.6,1033.7L1240.5,1037.0L1244.4,1040.3L1248.3,1043.7L1252.2,1047.1L1256.1,1050.5L1259.9,1053.9L1263.8,1057.4L1267.7,1060.9L1271.6,1064.5L1275.5,1068.1L1279.4,1071.7L1283.2,1075.3L1287.1,1079.0L1291.0,1082.7L1294.9,1086.5L1298.8,1090.2L1302.7,1094.0L1306.5,1097.9L1310.4,1101.7L1314.3,1105.6L1318.2,1109.5L1322.1,1113.5L1326.0,1117.5L1329.8,1121.5L1333.7,1125.6L1337.6,1129.6L1341.5,1133.8L1345.4,1137.9L1349.3,1142.1L1353.1,1146.3L1357.0,1150.5L1360.9,1154.8L1364.8,1159.1L1368.7,1163.4L1372.6,1167.7L1376.4,1172.1L1380.3,1176.5L1384.2,1181.0L1388.1,1185.4L1392.0,1189.9L1395.9,1194.5L1399.7,1199.0L1403.6,1203.6L1407.5,1208.2L1411.4,1212.9L1415.3,1217.5L1419.2,1222.2L1423.0,1226.9L1426.9,1231.7L1430.8,1236.5L1434.7,1241.3" fill="none" stroke="#ff5050" stroke-width="1.2" stroke-dasharray="5,3.5"/>
<path d="M280.5,1220.3l14,10M280.5,1230.3l14,-10M301.1,1195.2l14,10M301.1,1205.2l14,-10M321.9,1170.8l14,10M321.9,1180.8l14,-10M343.0,1147.0l14,10M343.0,1157.0l14,-10M364.3,1124.0l14,10M364.3,1134.0l14,-10M385.8,1101.7l14,10M385.8,1111.7l14,-10M407.4,1080.1l14,10M407.4,1090.1l14,-10M429.3,1059.4l14,10M429.3,1069.4l14,-10M451.5,1039.6l14,10M451.5,1049.6l14,-10M473.8,1020.7l14,10M473.8,1030.7l14,-10M496.3,1002.7l14,10M496.3,1012.7l14,-10M519.1,985.6l14,10M519.1,995.6l14,-10M542.1,969.6l14,10M542.1,979.6l14,-10M565.4,954.6l14,10M565.4,964.6l14,-10M588.9,940.6l14,10M588.9,950.6l14,-10M612.7,927.8l14,10M612.7,937.8l14,-10M636.7,916.1l14,10M636.7,926.1l14,-10M661.1,905.6l14,10M661.1,915.6l14,-10M685.7,896.4l14,10M685.7,906.4l14,-10M710.7,888.4l14,10M710.7,898.4l14,-10M736.1,881.7l14,10M736.1,891.7l14,-10M761.8,876.4l14,10M761.8,886.4l14,-10M787.9,872.5l14,10M787.9,882.5l14,-10M814.4,870.0l14,10M814.4,880.0l14,-10M841.4,869.0l14,10M841.4,879.0l14,-10M868.8,869.4l14,10M868.8,879.4l14,-10M896.8,871.4l14,10M896.8,881.4l14,-10M925.2,875.1l14,10M925.2,885.1l14,-10M954.3,880.8l14,10M954.3,890.8l14,-10M983.9,888.5l14,10M983.9,898.5l14,-10M1014.1,898.4l14,10M1014.1,908.4l14,-10M1045.0,910.6l14,10M1045.0,920.6l14,-10M1076.7,925.4l14,10M1076.7,935.4l14,-10M1109.0,942.9l14,10M1109.0,952.9l14,-10M1142.1,963.2l14,10M1142.1,973.2l14,-10M1176.1,986.6l14,10M1176.1,996.6l14,-10M1210.9,1013.2l14,10M1210.9,1023.2l14,-10M1246.6,1043.3l14,10M1246.6,1053.3l14,-10M1283.2,1076.9l14,10M1283.2,1086.9l14,-10M1320.9,1114.5l14,10M1320.9,1124.5l14,-10M1359.6,1156.0l14,10M1359.6,1166.0l14,-10M1399.4,1201.8l14,10M1399.4,1211.8l14,-10" fill="none" stroke="#ff2a2a" stroke-width="1.5"/>
<path d="M273.5,1185.9L277.4,1182.1L281.3,1178.4L285.2,1174.7L289.0,1171.0L292.9,1167.3L296.8,1163.7L300.7,1160.0L304.6,1156.4L308.5,1152.8L312.3,1149.2L316.2,1145.7L320.1,1142.1L324.0,1138.6L327.9,1135.1L331.8,1131.6L335.6,1128.1L339.5,1124.6L343.4,1121.2L347.3,1117.8L351.2,1114.4L355.1,1111.0L358.9,1107.6L362.8,1104.3L366.7,1100.9L370.6,1097.6L374.5,1094.3L378.4,1091.1L382.2,1087.8L386.1,1084.6L390.0,1081.4L393.9,1078.2L397.8,1075.0L401.7,1071.8L405.5,1068.7L409.4,1065.6L413.3,1062.5L417.2,1059.4L421.1,1056.4L425.0,1053.3L428.8,1050.3L432.7,1047.3L436.6,1044.4L440.5,1041.4L444.4,1038.5L448.3,1035.6L452.1,1032.7L456.0,1029.8L459.9,1027.0L463.8,1024.2L467.7,1021.4L471.6,1018.6L475.4,1015.8L479.3,1013.1L483.2,1010.4L487.1,1007.7L491.0,1005.0L494.9,1002.4L498.7,999.8L502.6,997.2L506.5,994.6L510.4,992.0L514.3,989.5L518.2,987.0L522.1,984.5L525.9,982.1L529.8,979.6L533.7,977.2L537.6,974.8L541.5,972.5L545.4,970.1L549.2,967.8L553.1,965.5L557.0,963.3L560.9,961.0L564.8,958.8L568.7,956.6L572.5,954.4L576.4,952.3L580.3,950.2L584.2,948.1L588.1,946.0L592.0,944.0L595.8,941.9L599.7,939.9L603.6,938.0L607.5,936.0L611.4,934.1L615.3,932.2L619.1,930.4L623.0,928.5L626.9,926.7L630.8,924.9L634.7,923.2L638.6,921.4L642.4,919.7L646.3,918.0L650.2,916.4L654.1,914.8L658.0,913.2L661.9,911.6L665.7,910.0L669.6,908.5L673.5,907.0L677.4,905.6L681.3,904.1L685.2,902.7L689.0,901.3L692.9,900.0L696.8,898.7L700.7,897.4L704.6,896.1L708.5,894.9L712.3,893.7L716.2,892.5L720.1,891.3L724.0,890.2L727.9,889.1L731.8,888.1L735.6,887.0L739.5,886.0L743.4,885.0L747.3,884.1L751.2,883.2L755.1,882.3L759.0,881.5L762.8,880.6L766.7,879.8L770.6,879.1L774.5,878.3L778.4,877.6L782.3,877.0L786.1,876.3L790.0,875.7L793.9,875.2L797.8,874.6L801.7,874.1L805.6,873.6L809.4,873.2L813.3,872.8L817.2,872.4L821.1,872.1L825.0,871.7L828.9,871.5L832.7,871.2L836.6,871.0L840.5,870.9L844.4,870.7L848.3,870.7L852.2,870.6L856.0,870.6L859.9,870.6L863.8,870.7L867.7,870.8L871.6,870.9L875.5,871.0L879.3,871.2L883.2,871.4L887.1,871.6L891.0,871.8L894.9,872.1L898.8,872.5L902.6,872.8L906.5,873.2L910.4,873.6L914.3,874.1L918.2,874.5L922.1,875.0L925.9,875.6L929.8,876.2L933.7,876.8L937.6,877.4L941.5,878.1L945.4,878.8L949.2,879.5L953.1,880.3L957.0,881.1L960.9,881.9L964.8,882.8L968.7,883.7L972.6,884.6L976.4,885.6L980.3,886.6L984.2,887.6L988.1,888.7L992.0,889.8L995.9,890.9L999.7,892.1L1003.6,893.3L1007.5,894.5L1011.4,895.8L1015.3,897.1L1019.2,898.4L1023.0,899.7L1026.9,901.1L1030.8,902.5L1034.7,904.0L1038.6,905.5L1042.5,907.0L1046.3,908.5L1050.2,910.1L1054.1,911.7L1058.0,913.3L1061.9,915.0L1065.8,916.7L1069.6,918.4L1073.5,920.2L1077.4,922.0L1081.3,923.8L1085.2,925.6L1089.1,927.5L1092.9,929.4L1096.8,931.3L1100.7,933.3L1104.6,935.3L1108.5,937.3L1112.4,939.4L1116.2,941.4L1120.1,943.5L1124.0,945.7L1127.9,947.8L1131.8,950.0L1135.7,952.2L1139.5,954.5L1143.4,956.7L1147.3,959.0L1151.2,961.4L1155.1,963.7L1159.0,966.1L1162.8,968.5L1166.7,970.9L1170.6,973.3L1174.5,975.8L1178.4,978.3L1182.3,980.8L1186.1,983.4L1190.0,985.9L1193.9,988.5L1197.8,991.1L1201.7,993.8L1205.6,996.4L1209.5,999.1L1213.3,1001.8L1217.2,1004.5L1221.1,1007.3L1225.0,1010.0L1228.9,1012.8L1232.8,1015.6L1236.6,1018.5L1240.5,1021.3L1244.4,1024.2L1248.3,1027.1L1252.2,1030.0L1256.1,1032.9L1259.9,1035.9L1263.8,1038.8L1267.7,1041.8L1271.6,1044.8L1275.5,1047.8L1279.4,1050.9L1283.2,1053.9L1287.1,1057.0L1291.0,1060.1L1294.9,1063.2L1298.8,1066.3L1302.7,1069.4L1306.5,1072.6L1310.4,1075.7L1314.3,1078.9L1318.2,1082.1L1322.1,1085.3L1326.0,1088.6L1329.8,1091.8L1333.7,1095.0L1337.6,1098.3L1341.5,1101.6L1345.4,1104.9L1349.3,1108.2L1353.1,1111.5L1357.0,1114.8L1360.9,1118.2L1364.8,1121.5L1368.7,1124.9L1372.6,1128.2L1376.4,1131.6L1380.3,1135.0L1384.2,1138.4L1388.1,1141.8L1392.0,1145.3L1395.9,1148.7L1399.7,1152.1L1403.6,1155.6L1407.5,1159.0L1411.4,1162.5L1415.3,1166.0L1419.2,1169.5L1423.0,1173.0L1426.9,1176.4L1430.8,1180.0L1434.7,1183.5" fill="none" stroke="#30f030" stroke-width="1.3" stroke-dasharray="2.5,5"/>
<path d="M279.5,1172.5h16M287.5,1167.0v11M300.1,1153.2h16M308.1,1147.7v11M320.9,1134.1h16M328.9,1128.6v11M342.0,1115.4h16M350.0,1109.9v11M363.3,1097.0h16M371.3,1091.5v11M384.8,1079.1h16M392.8,1073.6v11M406.4,1061.6h16M414.4,1056.1v11M428.3,1044.6h16M436.3,1039.1v11M450.5,1028.0h16M458.5,1022.5v11M472.8,1012.1h16M480.8,1006.6v11M495.3,996.7h16M503.3,991.2v11M518.1,982.0h16M526.1,976.5v11M541.1,967.9h16M549.1,962.4v11M564.4,954.5h16M572.4,949.0v11M587.9,941.9h16M595.9,936.4v11M611.7,930.1h16M619.7,924.6v11M635.7,919.2h16M643.7,913.7v11M660.1,909.1h16M668.1,903.6v11M684.7,900.1h16M692.7,894.6v11M709.7,892.0h16M717.7,886.5v11M735.1,885.1h16M743.1,879.6v11M760.8,879.4h16M768.8,873.9v11M786.9,875.0h16M794.9,869.5v11M813.4,872.0h16M821.4,866.5v11M840.4,870.7h16M848.4,865.2v11M867.8,871.0h16M875.8,865.5v11M895.8,872.9h16M903.8,867.4v11M924.2,876.5h16M932.2,871.0v11M953.3,882.0h16M961.3,876.5v11M982.9,889.5h16M990.9,884.0v11M1013.1,899.1h16M1021.1,893.6v11M1044.0,910.9h16M1052.0,905.4v11M1075.7,924.9h16M1083.7,919.4v11M1108.0,941.3h16M1116.0,935.8v11M1141.1,960.1h16M1149.1,954.6v11M1175.1,981.3h16M1183.1,975.8v11M1209.9,1005.0h16M1217.9,999.5v11M1245.6,1031.0h16M1253.6,1025.5v11M1282.2,1059.4h16M1290.2,1053.9v11M1319.9,1090.1h16M1327.9,1084.6v11M1358.6,1123.0h16M1366.6,1117.5v11M1398.4,1158.0h16M1406.4,1152.5v11M280.7,1167.8l13.6,9.35M280.7,1177.2l13.6,-9.35M301.3,1148.5l13.6,9.35M301.3,1157.8l13.6,-9.35M322.1,1129.4l13.6,9.35M322.1,1138.8l13.6,-9.35M343.2,1110.7l13.6,9.35M343.2,1120.1l13.6,-9.35M364.5,1092.4l13.6,9.35M364.5,1101.7l13.6,-9.35M386.0,1074.4l13.6,9.35M386.0,1083.8l13.6,-9.35M407.6,1056.9l13.6,9.35M407.6,1066.3l13.6,-9.35M429.5,1039.9l13.6,9.35M429.5,1049.2l13.6,-9.35M451.7,1023.4l13.6,9.35M451.7,1032.7l13.6,-9.35M474.0,1007.4l13.6,9.35M474.0,1016.8l13.6,-9.35M496.5,992.0l13.6,9.35M496.5,1001.4l13.6,-9.35M519.3,977.3l13.6,9.35M519.3,986.6l13.6,-9.35M542.3,963.2l13.6,9.35M542.3,972.6l13.6,-9.35M565.6,949.8l13.6,9.35M565.6,959.2l13.6,-9.35M589.1,937.2l13.6,9.35M589.1,946.6l13.6,-9.35M612.9,925.4l13.6,9.35M612.9,934.8l13.6,-9.35M636.9,914.5l13.6,9.35M636.9,923.8l13.6,-9.35M661.3,904.5l13.6,9.35M661.3,913.8l13.6,-9.35M685.9,895.4l13.6,9.35M685.9,904.7l13.6,-9.35M710.9,887.4l13.6,9.35M710.9,896.7l13.6,-9.35M736.3,880.5l13.6,9.35M736.3,889.8l13.6,-9.35M762.0,874.8l13.6,9.35M762.0,884.1l13.6,-9.35M788.1,870.3l13.6,9.35M788.1,879.7l13.6,-9.35M814.6,867.4l13.6,9.35M814.6,876.7l13.6,-9.35M841.6,866.0l13.6,9.35M841.6,875.3l13.6,-9.35M869.0,866.3l13.6,9.35M869.0,875.7l13.6,-9.35M897.0,868.2l13.6,9.35M897.0,877.6l13.6,-9.35M925.4,871.9l13.6,9.35M925.4,881.2l13.6,-9.35M954.5,877.4l13.6,9.35M954.5,886.7l13.6,-9.35M984.1,884.8l13.6,9.35M984.1,894.2l13.6,-9.35M1014.3,894.4l13.6,9.35M1014.3,903.8l13.6,-9.35M1045.2,906.2l13.6,9.35M1045.2,915.5l13.6,-9.35M1076.9,920.2l13.6,9.35M1076.9,929.6l13.6,-9.35M1109.2,936.6l13.6,9.35M1109.2,946.0l13.6,-9.35M1142.3,955.4l13.6,9.35M1142.3,964.8l13.6,-9.35M1176.3,976.6l13.6,9.35M1176.3,986.0l13.6,-9.35M1211.1,1000.3l13.6,9.35M1211.1,1009.6l13.6,-9.35M1246.8,1026.3l13.6,9.35M1246.8,1035.7l13.6,-9.35M1283.4,1054.8l13.6,9.35M1283.4,1064.1l13.6,-9.35M1321.1,1085.5l13.6,9.35M1321.1,1094.8l13.6,-9.35M1359.8,1118.4l13.6,9.35M1359.8,1127.7l13.6,-9.35M1399.6,1153.3l13.6,9.35M1399.6,1162.7l13.6,-9.35" fill="none" stroke="#00ee00" stroke-width="1.8"/>
<path d="M266.5,1157.0h14v12h-14zM272.3,1152.2h14v12h-14zM278.1,1147.5h14v12h-14zM283.9,1142.8h14v12h-14zM289.7,1138.1h14v12h-14zM295.5,1133.4h14v12h-14zM301.3,1128.7h14v12h-14zM307.1,1124.0h14v12h-14zM312.9,1119.4h14v12h-14zM318.8,1114.7h14v12h-14zM324.6,1110.1h14v12h-14zM330.4,1105.4h14v12h-14zM336.2,1100.8h14v12h-14zM342.0,1096.2h14v12h-14zM347.8,1091.6h14v12h-14zM353.6,1087.0h14v12h-14zM359.4,1082.5h14v12h-14zM365.2,1077.9h14v12h-14zM371.0,1073.4h14v12h-14zM376.8,1068.9h14v12h-14zM382.6,1064.4h14v12h-14zM388.4,1060.0h14v12h-14zM394.2,1055.6h14v12h-14zM400.0,1051.1h14v12h-14zM405.8,1046.8h14v12h-14zM411.7,1042.4h14v12h-14zM417.5,1038.1h14v12h-14zM423.3,1033.8h14v12h-14zM429.1,1029.5h14v12h-14zM434.9,1025.3h14v12h-14zM440.7,1021.1h14v12h-14zM446.5,1016.9h14v12h-14zM452.3,1012.8h14v12h-14zM458.1,1008.7h14v12h-14zM463.9,1004.6h14v12h-14zM469.7,1000.6h14v12h-14zM475.5,996.6h14v12h-14zM481.3,992.7h14v12h-14zM487.1,988.8h14v12h-14zM492.9,985.0h14v12h-14zM498.7,981.1h14v12h-14zM504.5,977.4h14v12h-14zM510.4,973.7h14v12h-14zM516.2,970.0h14v12h-14zM522.0,966.4h14v12h-14zM527.8,962.8h14v12h-14zM533.6,959.3h14v12h-14zM539.4,955.8h14v12h-14zM545.2,952.4h14v12h-14zM551.0,949.0h14v12h-14zM556.8,945.7h14v12h-14zM562.6,942.4h14v12h-14zM568.4,939.2h14v12h-14zM574.2,936.1h14v12h-14zM580.0,933.0h14v12h-14zM585.8,929.9h14v12h-14zM591.6,927.0h14v12h-14zM597.4,924.1h14v12h-14zM603.2,921.2h14v12h-14zM609.1,918.4h14v12h-14zM614.9,915.7h14v12h-14zM620.7,913.0h14v12h-14zM626.5,910.4h14v12h-14zM632.3,907.9h14v12h-14zM638.1,905.5h14v12h-14zM643.9,903.1h14v12h-14zM649.7,900.7h14v12h-14zM655.5,898.5h14v12h-14zM661.3,896.3h14v12h-14zM667.1,894.1h14v12h-14zM672.9,892.1h14v12h-14zM678.7,890.1h14v12h-14zM684.5,888.2h14v12h-14zM690.3,886.3h14v12h-14zM696.1,884.6h14v12h-14zM702.0,882.9h14v12h-14zM707.8,881.2h14v12h-14zM713.6,879.7h14v12h-14zM719.4,878.2h14v12h-14zM725.2,876.7h14v12h-14zM731.0,875.4h14v12h-14zM736.8,874.1h14v12h-14zM742.6,872.9h14v12h-14zM748.4,871.8h14v12h-14zM754.2,870.7h14v12h-14zM760.0,869.7h14v12h-14zM765.8,868.8h14v12h-14zM771.6,868.0h14v12h-14zM777.4,867.2h14v12h-14zM783.2,866.5h14v12h-14zM789.0,865.8h14v12h-14zM794.8,865.3h14v12h-14zM800.7,864.8h14v12h-14zM806.5,864.3h14v12h-14zM812.3,864.0h14v12h-14zM818.1,863.6h14v12h-14zM823.9,863.4h14v12h-14zM829.7,863.2h14v12h-14zM835.5,863.1h14v12h-14zM841.3,863.0h14v12h-14zM847.1,863.0h14v12h-14zM852.9,863.0h14v12h-14zM858.7,863.1h14v12h-14zM864.5,863.2h14v12h-14zM870.3,863.4h14v12h-14zM876.1,863.6h14v12h-14zM881.9,863.9h14v12h-14zM887.7,864.2h14v12h-14zM893.5,864.6h14v12h-14zM899.4,865.1h14v12h-14zM905.2,865.6h14v12h-14zM911.0,866.2h14v12h-14zM916.8,866.9h14v12h-14zM922.6,867.6h14v12h-14zM928.4,868.4h14v12h-14zM934.2,869.3h14v12h-14zM940.0,870.3h14v12h-14zM945.8,871.3h14v12h-14zM951.6,872.4h14v12h-14zM957.4,873.6h14v12h-14zM963.2,874.8h14v12h-14zM969.0,876.1h14v12h-14zM974.8,877.5h14v12h-14zM980.6,878.9h14v12h-14zM986.4,880.5h14v12h-14zM992.2,882.1h14v12h-14zM998.1,883.8h14v12h-14zM1003.9,885.5h14v12h-14zM1009.7,887.3h14v12h-14zM1015.5,889.2h14v12h-14zM1021.3,891.2h14v12h-14zM1027.1,893.2h14v12h-14zM1032.9,895.3h14v12h-14zM1038.7,897.5h14v12h-14zM1044.5,899.8h14v12h-14zM1050.3,902.1h14v12h-14zM1056.1,904.5h14v12h-14zM1061.9,906.9h14v12h-14zM1067.7,909.4h14v12h-14zM1073.5,912.0h14v12h-14zM1079.3,914.7h14v12h-14zM1085.1,917.4h14v12h-14zM1091.0,920.2h14v12h-14zM1096.8,923.1h14v12h-14zM1102.6,926.0h14v12h-14zM1108.4,929.0h14v12h-14zM1114.2,932.0h14v12h-14zM1120.0,935.1h14v12h-14zM1125.8,938.3h14v12h-14zM1131.6,941.5h14v12h-14zM1137.4,944.8h14v12h-14zM1143.2,948.1h14v12h-14zM1149.0,951.5h14v12h-14zM1154.8,955.0h14v12h-14zM1160.6,958.5h14v12h-14zM1166.4,962.0h14v12h-14zM1172.2,965.6h14v12h-14zM1178.0,969.3h14v12h-14zM1183.8,973.0h14v12h-14zM1189.7,976.7h14v12h-14zM1195.5,980.5h14v12h-14zM1201.3,984.4h14v12h-14zM1207.1,988.3h14v12h-14zM1212.9,992.2h14v12h-14zM1218.7,996.2h14v12h-14zM1224.5,1000.2h14v12h-14zM1230.3,1004.3h14v12h-14zM1236.1,1008.4h14v12h-14zM1241.9,1012.5h14v12h-14zM1247.7,1016.7h14v12h-14zM1253.5,1020.9h14v12h-14zM1259.3,1025.1h14v12h-14zM1265.1,1029.4h14v12h-14zM1270.9,1033.7h14v12h-14zM1276.7,1038.0h14v12h-14zM1282.5,1042.4h14v12h-14zM1288.4,1046.7h14v12h-14zM1294.2,1051.1h14v12h-14zM1300.0,1055.6h14v12h-14zM1305.8,1060.0h14v12h-14zM1311.6,1064.5h14v12h-14zM1317.4,1069.0h14v12h-14zM1323.2,1073.6h14v12h-14zM1329.0,1078.1h14v12h-14zM1334.8,1082.7h14v12h-14zM1340.6,1087.2h14v12h-14zM1346.4,1091.8h14v12h-14zM1352.2,1096.4h14v12h-14zM1358.0,1101.1h14v12h-14zM1363.8,1105.7h14v12h-14zM1369.6,1110.3h14v12h-14zM1375.4,1115.0h14v12h-14zM1381.3,1119.7h14v12h-14zM1387.1,1124.3h14v12h-14zM1392.9,1129.0h14v12h-14zM1398.7,1133.7h14v12h-14zM1404.5,1138.4h14v12h-14zM1410.3,1143.1h14v12h-14zM1416.1,1147.8h14v12h-14zM1421.9,1152.5h14v12h-14zM1427.7,1157.2h14v12h-14z" fill="#ffa500" stroke="none"/>
</g>
<path d="M273.5,747.0V1307.0" stroke="#666" stroke-width="1.6" fill="none"/>
<path d="M272.5,1306.0H1435.7" stroke="#444" stroke-width="2" fill="none"/>
<path d="M273.5,747.5H1435.7" stroke="#777" stroke-width="1.8" fill="none"/>
<path d="M1434.7,747.5V1307.0" stroke="#000" stroke-width="2.4" fill="none"/>
<path d="M388,1306.0v-10M388,747.5v10M621.5,1306.0v-10M621.5,747.5v10M852.4,1306.0v-10M852.4,747.5v10M1086.4,1306.0v-10M1086.4,747.5v10M1318.1,1306.0v-10M1318.1,747.5v10M273.5,859.2h13M1434.7,859.2h-13M273.5,970.9h13M1434.7,970.9h-13M273.5,1082.6h13M1434.7,1082.6h-13M273.5,1194.3h13M1434.7,1194.3h-13" stroke="#555" stroke-width="1.5" fill="none"/>
<path d="M1237.3,775.2H1375.2" stroke="#777" stroke-width="1.3"/>
<path d="M1298.8,775.2h13M1305.3,770.2v10" stroke="#111" stroke-width="1.4" fill="none"/>
<path d="M1237.3,810.8H1375.2" stroke="#ff7070" stroke-width="1.3" stroke-dasharray="9,4"/>
<path d="M1298.8,806.3l13,9M1298.8,815.3l13,-9" stroke="#ff2a2a" stroke-width="1.3" fill="none"/>
<path d="M1237.3,846.8H1371.2" stroke="#30f030" stroke-width="1.5" stroke-dasharray="5,7"/>
<path d="M1297.3,846.8h16M1305.3,840.8v12M1298.5,841.7l13.6,10.2M1298.5,851.9l13.6,-10.2" stroke="#00ee00" stroke-width="1.4" fill="none"/>
<path d="M1237.3,882.1H1375.2" stroke="#ffd9b0" stroke-width="2" stroke-dasharray="10,4,2,4"/>
<path d="M1298.0,876.4h14.5v11.5h-14.5z" fill="#ffa500"/>
</g>
</defs>
<use href="#gfx" filter="url(#bl)"/>
<use href="#gfx" opacity="0.4"/>
<g id="labels" filter="url(#bl)">
<text transform="translate(217.34,608.70) scale(1.43,1)" font-family='"Liberation Sans", Arial, Helvetica, sans-serif' font-size="36">-200</text>
<text transform="translate(363.84,608.70) scale(1.43,1)" font-family='"Liberation Sans", Arial, Helvetica, sans-serif' font-size="36">-150</text>
<text transform="translate(511.34,608.70) scale(1.43,1)" font-family='"Liberation Sans", Arial, Helvetica, sans-serif' font-size="36">-100</text>
<text transform="translate(672.82,608.70) scale(1.43,1)" font-family='"Liberation Sans", Arial, Helvetica, sans-serif' font-size="36">-50</text>
<text transform="translate(850.20,608.70) scale(1.43,1)" font-family='"Liberation Sans", Arial, Helvetica, sans-serif' font-size="36">0</text>
<text transform="translate(982.90,608.70) scale(1.43,1)" font-family='"Liberation Sans", Arial, Helvetica, sans-serif' font-size="36">50</text>
<text transform="translate(1116.03,608.70) scale(1.43,1)" font-family='"Liberation Sans", Arial, Helvetica, sans-serif' font-size="36">100</text>
<text transform="translate(1264.53,608.70) scale(1.43,1)" font-family='"Liberation Sans", Arial, Helvetica, sans-serif' font-size="36">150</text>
<text transform="translate(1410.24,608.70) scale(1.43,1)" font-family='"Liberation Sans", Arial, Helvetica, sans-serif' font-size="36">200</text>
<text transform="translate(210.75,29.90) scale(1.43,1)" font-family='"Liberation Sans", Arial, Helvetica, sans-serif' font-size="36">0</text>
<text transform="translate(150.64,138.50) scale(1.43,1)" font-family='"Liberation Sans", Arial, Helvetica, sans-serif' font-size="36">-0.1</text>
<text transform="translate(150.64,247.10) scale(1.43,1)" font-family='"Liberation Sans", Arial, Helvetica, sans-serif' font-size="36">-0.2</text>
<text transform="translate(150.64,355.80) scale(1.43,1)" font-family='"Liberation Sans", Arial, Helvetica, sans-serif' font-size="36">-0.3</text>
<text transform="translate(150.64,464.40) scale(1.43,1)" font-family='"Liberation Sans", Arial, Helvetica, sans-serif' font-size="36">-0.4</text>
<text transform="translate(150.64,573.00) scale(1.43,1)" font-family='"Liberation Sans", Arial, Helvetica, sans-serif' font-size="36">-0.5</text>
<text transform="translate(298.71,127.70) scale(1.43,1)" font-family='"Liberation Sans", Arial, Helvetica, sans-serif' font-size="36">Z=92</text>
<text transform="translate(1122.42,56.50) scale(1.43,1)" font-family='"Liberation Sans", Arial, Helvetica, sans-serif' font-size="36">num</text>
<text transform="translate(1093.10,91.10) scale(1.43,1)" font-family='"Liberation Sans", Arial, Helvetica, sans-serif' font-size="36">NR-lz</text>
<text transform="translate(1147.44,125.60) scale(1.43,1)" font-family='"Liberation Sans", Arial, Helvetica, sans-serif' font-size="36">NR</text>
<text transform="translate(1165.67,160.30) scale(1.43,1)" font-family='"Liberation Sans", Arial, Helvetica, sans-serif' font-size="36">rel</text>
<text transform="translate(743.8,655.5) scale(1.43,1)" font-family='"Liberation Sans", Arial, Helvetica, sans-serif' font-size="36">p<tspan font-size="28.8" dy="12.5">min</tspan><tspan dy="-12.5"> (a.u.)</tspan></text>
<g transform="translate(73.9,309.3) scale(1.43,1) rotate(-90)"><text class="sf" font-family='"Liberation Serif", "Times New Roman", Times, serif' font-size="38.6">Δ</text><text x="22.0" y="10.85" font-family='"Liberation Sans", Arial, Helvetica, sans-serif' font-size="31">2</text></g>
<text transform="translate(350.90,1355.00) scale(1.452,1)" font-family='"Liberation Sans", Arial, Helvetica, sans-serif' font-size="36">-40</text>
<text transform="translate(582.65,1355.00) scale(1.452,1)" font-family='"Liberation Sans", Arial, Helvetica, sans-serif' font-size="36">-20</text>
<text transform="translate(846.13,1355.00) scale(1.452,1)" font-family='"Liberation Sans", Arial, Helvetica, sans-serif' font-size="36">0</text>
<text transform="translate(1064.03,1355.00) scale(1.452,1)" font-family='"Liberation Sans", Arial, Helvetica, sans-serif' font-size="36">20</text>
<text transform="translate(1296.45,1355.00) scale(1.452,1)" font-family='"Liberation Sans", Arial, Helvetica, sans-serif' font-size="36">40</text>
<text transform="translate(212.34,759.20) scale(1.452,1)" font-family='"Liberation Sans", Arial, Helvetica, sans-serif' font-size="36">0</text>
<text transform="translate(123.11,870.90) scale(1.452,1)" font-family='"Liberation Sans", Arial, Helvetica, sans-serif' font-size="36">-0.01</text>
<text transform="translate(123.11,982.60) scale(1.452,1)" font-family='"Liberation Sans", Arial, Helvetica, sans-serif' font-size="36">-0.02</text>
<text transform="translate(123.11,1094.30) scale(1.452,1)" font-family='"Liberation Sans", Arial, Helvetica, sans-serif' font-size="36">-0.03</text>
<text transform="translate(123.11,1206.00) scale(1.452,1)" font-family='"Liberation Sans", Arial, Helvetica, sans-serif' font-size="36">-0.04</text>
<text transform="translate(123.11,1317.70) scale(1.452,1)" font-family='"Liberation Sans", Arial, Helvetica, sans-serif' font-size="36">-0.05</text>
<text transform="translate(328.38,859.80) scale(1.46,1)" font-family='"Liberation Sans", Arial, Helvetica, sans-serif' font-size="36">Z=29</text>
<text transform="translate(1106.93,786.70) scale(1.452,1)" font-family='"Liberation Sans", Arial, Helvetica, sans-serif' font-size="36">num</text>
<text transform="translate(1077.16,822.30) scale(1.452,1)" font-family='"Liberation Sans", Arial, Helvetica, sans-serif' font-size="36">NR-lz</text>
<text transform="translate(1132.34,858.30) scale(1.452,1)" font-family='"Liberation Sans", Arial, Helvetica, sans-serif' font-size="36">NR</text>
<text transform="translate(1150.85,893.60) scale(1.452,1)" font-family='"Liberation Sans", Arial, Helvetica, sans-serif' font-size="36">rel</text>
<text transform="translate(739.3,1403.2) scale(1.43,1)" font-family='"Liberation Sans", Arial, Helvetica, sans-serif' font-size="36">p<tspan font-size="28.8" dy="12">min</tspan><tspan dy="-12"> (a.u.)</tspan></text>
<g transform="translate(42.8,1046.1) scale(1.452,1) rotate(-90)"><text class="sf" font-family='"Liberation Serif", "Times New Roman", Times, serif' font-size="37.8">Δ</text><text x="20.6" y="11.9" font-family='"Liberation Sans", Arial, Helvetica, sans-serif' font-size="32">2</text></g>
</g>
<g id="tags" filter="url(#bl2)">
<text class="tg" x="291.9" y="64.6" font-family='"Liberation Serif", "Times New Roman", Times, serif' font-size="50">(a)</text>
<text class="tg" x="295.3" y="792.3" font-family='"Liberation Serif", "Times New Roman", Times, serif' font-size="51">(b)</text>
</g>
</svg>
</body></html>
